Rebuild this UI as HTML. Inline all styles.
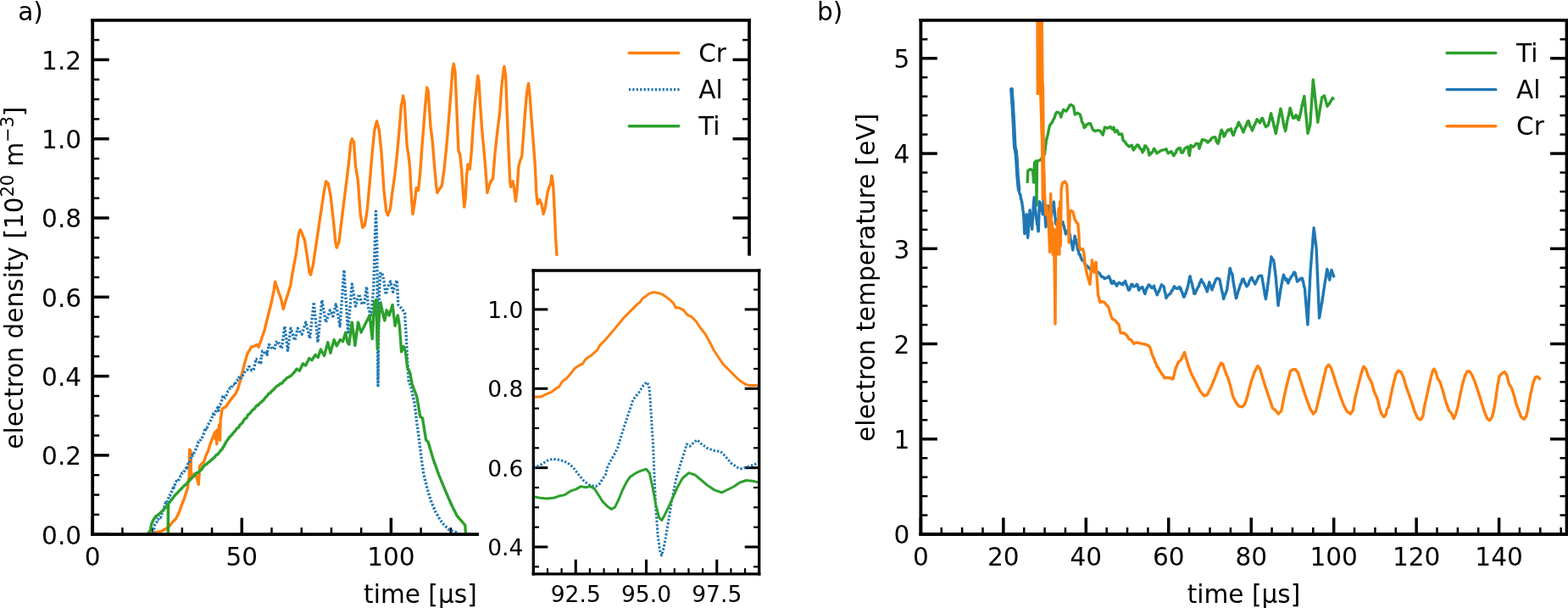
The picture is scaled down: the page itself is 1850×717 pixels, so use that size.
<!DOCTYPE html>
<html><head><meta charset="utf-8"><title>figure</title>
<style>html,body{margin:0;padding:0;background:#fff;width:1850px;height:717px;overflow:hidden} svg{display:block}</style>
</head><body>
<svg width="1850" height="717" viewBox="0 0 1850 717" font-family="'DejaVu Sans', 'Liberation Sans', sans-serif">
<rect x="0" y="0" width="1850" height="717" fill="#fff"/>
<defs>
<clipPath id="ca"><rect x="109.2" y="23.8" width="774.8" height="606.4000000000001"/></clipPath>
<clipPath id="cb"><rect x="1086.4" y="23.9" width="762.0999999999999" height="606.1"/></clipPath>
<clipPath id="ci"><rect x="629.3" y="319.0" width="266.4000000000001" height="357.79999999999995"/></clipPath>
</defs>
<line x1="109.20" y1="630.20" x2="109.20" y2="610.70" stroke="#000" stroke-width="3.5"/>
<line x1="285.29" y1="630.20" x2="285.29" y2="610.70" stroke="#000" stroke-width="3.5"/>
<line x1="461.38" y1="630.20" x2="461.38" y2="610.70" stroke="#000" stroke-width="3.5"/>
<line x1="144.42" y1="630.20" x2="144.42" y2="622.20" stroke="#000" stroke-width="2.5"/>
<line x1="179.64" y1="630.20" x2="179.64" y2="622.20" stroke="#000" stroke-width="2.5"/>
<line x1="214.85" y1="630.20" x2="214.85" y2="622.20" stroke="#000" stroke-width="2.5"/>
<line x1="250.07" y1="630.20" x2="250.07" y2="622.20" stroke="#000" stroke-width="2.5"/>
<line x1="320.51" y1="630.20" x2="320.51" y2="622.20" stroke="#000" stroke-width="2.5"/>
<line x1="355.73" y1="630.20" x2="355.73" y2="622.20" stroke="#000" stroke-width="2.5"/>
<line x1="390.95" y1="630.20" x2="390.95" y2="622.20" stroke="#000" stroke-width="2.5"/>
<line x1="426.16" y1="630.20" x2="426.16" y2="622.20" stroke="#000" stroke-width="2.5"/>
<line x1="496.60" y1="630.20" x2="496.60" y2="622.20" stroke="#000" stroke-width="2.5"/>
<line x1="531.82" y1="630.20" x2="531.82" y2="622.20" stroke="#000" stroke-width="2.5"/>
<line x1="109.20" y1="630.20" x2="128.70" y2="630.20" stroke="#000" stroke-width="3.5"/>
<line x1="109.20" y1="536.91" x2="128.70" y2="536.91" stroke="#000" stroke-width="3.5"/>
<line x1="109.20" y1="443.62" x2="128.70" y2="443.62" stroke="#000" stroke-width="3.5"/>
<line x1="109.20" y1="350.32" x2="128.70" y2="350.32" stroke="#000" stroke-width="3.5"/>
<line x1="109.20" y1="257.03" x2="128.70" y2="257.03" stroke="#000" stroke-width="3.5"/>
<line x1="884.00" y1="257.03" x2="864.50" y2="257.03" stroke="#000" stroke-width="3.5"/>
<line x1="109.20" y1="163.74" x2="128.70" y2="163.74" stroke="#000" stroke-width="3.5"/>
<line x1="884.00" y1="163.74" x2="864.50" y2="163.74" stroke="#000" stroke-width="3.5"/>
<line x1="109.20" y1="70.45" x2="128.70" y2="70.45" stroke="#000" stroke-width="3.5"/>
<line x1="884.00" y1="70.45" x2="864.50" y2="70.45" stroke="#000" stroke-width="3.5"/>
<line x1="109.20" y1="606.88" x2="117.20" y2="606.88" stroke="#000" stroke-width="2.5"/>
<line x1="109.20" y1="583.55" x2="117.20" y2="583.55" stroke="#000" stroke-width="2.5"/>
<line x1="109.20" y1="560.23" x2="117.20" y2="560.23" stroke="#000" stroke-width="2.5"/>
<line x1="109.20" y1="513.58" x2="117.20" y2="513.58" stroke="#000" stroke-width="2.5"/>
<line x1="109.20" y1="490.26" x2="117.20" y2="490.26" stroke="#000" stroke-width="2.5"/>
<line x1="109.20" y1="466.94" x2="117.20" y2="466.94" stroke="#000" stroke-width="2.5"/>
<line x1="109.20" y1="420.29" x2="117.20" y2="420.29" stroke="#000" stroke-width="2.5"/>
<line x1="109.20" y1="396.97" x2="117.20" y2="396.97" stroke="#000" stroke-width="2.5"/>
<line x1="109.20" y1="373.65" x2="117.20" y2="373.65" stroke="#000" stroke-width="2.5"/>
<line x1="109.20" y1="327.00" x2="117.20" y2="327.00" stroke="#000" stroke-width="2.5"/>
<line x1="109.20" y1="303.68" x2="117.20" y2="303.68" stroke="#000" stroke-width="2.5"/>
<line x1="109.20" y1="280.35" x2="117.20" y2="280.35" stroke="#000" stroke-width="2.5"/>
<line x1="884.00" y1="280.35" x2="876.00" y2="280.35" stroke="#000" stroke-width="2.5"/>
<line x1="109.20" y1="233.71" x2="117.20" y2="233.71" stroke="#000" stroke-width="2.5"/>
<line x1="884.00" y1="233.71" x2="876.00" y2="233.71" stroke="#000" stroke-width="2.5"/>
<line x1="109.20" y1="210.38" x2="117.20" y2="210.38" stroke="#000" stroke-width="2.5"/>
<line x1="884.00" y1="210.38" x2="876.00" y2="210.38" stroke="#000" stroke-width="2.5"/>
<line x1="109.20" y1="187.06" x2="117.20" y2="187.06" stroke="#000" stroke-width="2.5"/>
<line x1="884.00" y1="187.06" x2="876.00" y2="187.06" stroke="#000" stroke-width="2.5"/>
<line x1="109.20" y1="140.42" x2="117.20" y2="140.42" stroke="#000" stroke-width="2.5"/>
<line x1="884.00" y1="140.42" x2="876.00" y2="140.42" stroke="#000" stroke-width="2.5"/>
<line x1="109.20" y1="117.09" x2="117.20" y2="117.09" stroke="#000" stroke-width="2.5"/>
<line x1="884.00" y1="117.09" x2="876.00" y2="117.09" stroke="#000" stroke-width="2.5"/>
<line x1="109.20" y1="93.77" x2="117.20" y2="93.77" stroke="#000" stroke-width="2.5"/>
<line x1="884.00" y1="93.77" x2="876.00" y2="93.77" stroke="#000" stroke-width="2.5"/>
<line x1="109.20" y1="47.12" x2="117.20" y2="47.12" stroke="#000" stroke-width="2.5"/>
<line x1="884.00" y1="47.12" x2="876.00" y2="47.12" stroke="#000" stroke-width="2.5"/>
<line x1="109.20" y1="23.80" x2="117.20" y2="23.80" stroke="#000" stroke-width="2.5"/>
<line x1="884.00" y1="23.80" x2="876.00" y2="23.80" stroke="#000" stroke-width="2.5"/>
<path d="M176.0,629.0 L183.8,627.8 L190.1,626.6 L195.1,624.1 L200.1,620.3 L203.9,615.3 L207.7,611.5 L211.4,604.0 L214.0,596.5 L216.5,590.2 L219.0,582.7 L221.5,575.1 L222.7,563.8 L223.2,566.0 L223.6,530.0 L224.3,560.0 L224.8,531.0 L225.7,565.1 L228.8,559.0 L231.9,562.1 L234.2,571.3 L235.7,549.8 L238.0,546.7 L240.3,545.2 L243.4,536.0 L245.7,531.4 L248.0,523.7 L251.1,516.0 L253.4,509.9 L254.5,518.0 L255.2,508.0 L255.7,523.7 L256.4,506.8 L257.5,515.0 L258.7,500.7 L259.5,519.1 L260.2,495.0 L261.0,490.0 L261.8,483.8 L262.6,481.7 L266.4,479.8 L270.1,474.2 L273.0,470.4 L277.7,464.7 L280.5,459.1 L283.3,449.7 L286.1,438.4 L289.0,427.1 L291.8,417.4 L296.7,409.0 L300.3,408.2 L303.1,406.4 L305.0,409.2 L307.8,402.0 L312.0,389.5 L316.2,372.7 L320.4,356.0 L323.2,342.0 L324.6,332.3 L326.0,336.5 L328.8,344.8 L331.5,351.8 L334.3,364.4 L337.1,354.6 L339.9,346.2 L342.7,336.5 L345.5,319.7 L349.7,297.4 L352.5,275.1 L354.4,271.0 L355.3,272.5 L359.5,283.6 L362.3,301.7 L365.1,321.3 L366.5,324.0 L369.3,312.9 L373.5,285.0 L377.6,257.1 L381.8,229.2 L384.6,213.9 L387.4,216.7 L390.2,232.0 L393.0,257.1 L395.8,285.0 L397.2,292.0 L400.0,285.0 L404.1,251.5 L408.3,218.1 L411.1,195.8 L413.9,167.9 L415.3,163.7 L417.5,167.9 L419.5,195.8 L422.3,212.5 L425.1,251.5 L427.8,268.3 L430.6,265.5 L433.4,246.0 L436.2,215.3 L439.0,181.8 L441.8,153.9 L444.6,142.8 L447.4,153.9 L450.2,181.8 L452.9,223.7 L455.7,248.8 L457.7,253.8 L460.5,246.0 L462.8,227.3 L465.6,207.8 L468.4,182.7 L471.2,152.0 L473.4,124.1 L474.5,120.0 L475.6,113.0 L477.3,121.3 L479.0,152.0 L480.1,171.5 L482.3,185.5 L483.7,199.4 L485.1,227.3 L487.0,252.4 L489.3,238.5 L491.2,221.7 L493.5,224.5 L495.7,205.0 L497.6,177.1 L499.6,152.0 L501.8,124.1 L502.7,114.4 L503.8,103.2 L505.2,107.4 L506.3,124.1 L508.0,149.2 L510.2,166.0 L512.4,193.9 L514.7,219.0 L515.8,227.3 L518.6,223.1 L521.3,219.0 L524.1,199.4 L526.9,171.5 L529.7,138.1 L531.9,110.2 L533.9,82.3 L535.3,75.3 L537.0,85.1 L538.1,110.2 L539.5,143.7 L540.9,177.1 L542.8,182.7 L544.5,199.4 L546.4,227.3 L547.8,244.0 L549.2,232.9 L550.6,207.8 L552.0,193.9 L554.3,199.4 L556.2,179.9 L558.2,149.2 L560.4,121.3 L562.3,104.6 L563.7,89.3 L565.1,96.3 L566.5,121.3 L568.8,154.8 L571.0,177.1 L572.9,199.4 L574.9,227.3 L577.1,219.0 L579.4,213.4 L581.6,210.6 L584.1,179.9 L586.9,154.8 L589.7,132.5 L591.7,103.4 L594.0,83.4 L595.0,78.4 L596.7,90.1 L598.4,136.9 L600.1,177.0 L601.7,213.8 L602.7,220.5 L605.1,213.8 L606.8,223.8 L608.4,237.2 L610.1,223.8 L611.8,197.1 L613.4,190.4 L615.8,183.7 L617.5,160.3 L619.5,133.5 L621.5,110.1 L623.5,98.4 L625.2,113.5 L626.8,136.9 L629.2,167.0 L631.2,193.7 L632.8,227.2 L634.2,240.6 L636.9,235.6 L638.9,240.6 L641.2,252.3 L643.5,243.9 L645.9,227.2 L647.9,220.5 L649.6,217.2 L650.9,207.1 L652.6,217.2 L654.2,247.3 L655.6,280.7 L656.9,300.8 L658.0,330.0" fill="none" stroke="#ff7f0e" stroke-width="3.4" stroke-linejoin="round" stroke-linecap="butt" clip-path="url(#ca)"/>
<path d="M180.5,629.0 L180.9,627.1 L181.3,625.3 L181.7,623.2 L182.2,621.2 L182.6,619.1 L183.8,617.2 L185.1,615.3 L185.9,612.2 L186.8,612.3 L187.6,610.3 L188.9,610.5 L190.1,609.2 L191.4,605.2 L192.0,605.1 L192.7,601.5 L193.3,600.1 L193.9,597.7 L194.6,595.8 L195.4,592.7 L196.1,592.5 L196.9,593.1 L197.6,590.2 L198.4,589.1 L199.1,586.7 L199.9,584.1 L200.6,584.1 L201.4,582.7 L202.2,580.3 L202.9,579.7 L203.7,578.9 L204.4,573.2 L205.2,575.1 L205.9,573.5 L206.7,569.9 L207.4,569.2 L208.2,567.3 L208.9,567.6 L209.9,568.0 L210.9,566.1 L212.0,564.6 L213.0,561.5 L214.0,561.3 L214.9,557.6 L215.8,557.6 L216.8,556.9 L217.7,555.0 L218.5,553.4 L219.2,553.0 L220.0,550.0 L220.7,551.7 L221.5,547.5 L222.4,546.7 L223.4,547.0 L224.4,542.6 L225.3,540.5 L226.1,538.7 L226.9,536.3 L227.7,537.2 L228.5,536.1 L229.3,533.3 L230.1,532.2 L230.9,530.1 L231.7,528.1 L232.5,526.2 L233.3,524.8 L234.2,520.8 L235.0,520.5 L235.8,520.5 L236.6,518.8 L237.3,517.5 L238.1,517.5 L238.8,515.3 L239.5,513.6 L240.3,511.5 L241.0,510.0 L241.8,505.0 L242.7,506.7 L243.5,503.7 L244.3,504.1 L245.2,501.2 L246.0,500.0 L247.5,498.6 L248.3,496.5 L249.1,494.6 L249.9,493.3 L250.8,489.2 L251.6,488.1 L252.4,490.7 L253.2,487.3 L254.1,486.4 L255.1,483.5 L256.0,482.1 L256.9,480.5 L257.9,484.3 L258.8,477.9 L259.8,477.1 L260.7,474.8 L261.6,472.2 L262.6,468.1 L263.6,470.2 L264.5,468.5 L265.6,469.1 L266.7,466.9 L267.9,464.4 L269.0,461.6 L270.1,461.0 L271.2,457.7 L272.4,458.1 L273.5,455.8 L274.7,453.2 L275.8,453.4 L277.2,454.5 L278.6,449.2 L280.0,448.4 L281.4,447.8 L282.5,443.1 L283.7,448.0 L284.8,444.1 L286.0,443.1 L287.1,442.1 L288.0,441.1 L289.0,438.0 L289.9,436.9 L290.8,436.5 L292.1,435.7 L293.3,432.7 L294.6,432.7 L295.9,434.4 L297.1,437.0 L298.4,436.5 L298.9,436.0 L299.3,435.3 L299.8,433.1 L300.2,432.5 L300.7,428.7 L301.2,427.2 L301.6,423.3 L302.1,423.3 L303.3,424.4 L304.5,425.1 L305.7,427.5 L306.9,429.0 L307.2,425.7 L307.5,426.1 L307.8,427.8 L308.1,421.1 L308.5,421.5 L308.8,419.9 L309.1,416.1 L309.4,415.1 L309.7,413.9 L311.3,414.4 L312.8,417.1 L314.4,417.7 L314.8,415.1 L315.2,418.3 L315.6,414.1 L316.0,412.9 L316.4,412.8 L316.8,410.1 L317.2,406.4 L318.6,407.6 L320.0,409.7 L321.5,410.6 L322.9,412.0 L323.7,410.8 L324.5,410.3 L325.2,404.3 L326.0,403.2 L326.8,403.7 L327.6,402.6 L328.6,404.9 L329.5,405.2 L330.5,407.6 L331.4,409.2 L332.4,410.9 L332.6,409.3 L332.8,407.6 L333.1,406.0 L333.3,404.4 L333.5,402.7 L333.7,401.1 L333.9,399.5 L334.1,397.9 L334.4,396.2 L334.6,394.6 L334.8,393.0 L335.0,391.3 L335.2,389.7 L335.5,388.1 L335.7,386.4 L335.9,384.8 L336.1,386.5 L336.3,388.2 L336.5,389.8 L336.7,391.5 L337.0,393.2 L337.2,394.9 L337.4,396.5 L337.6,398.2 L337.8,399.9 L338.0,401.6 L338.2,403.2 L338.4,404.9 L338.7,406.6 L338.9,408.3 L339.1,409.9 L339.3,411.6 L339.5,413.3 L339.7,411.7 L339.9,410.0 L340.2,408.4 L340.4,406.8 L340.6,405.1 L340.8,403.5 L341.0,401.9 L341.2,400.2 L341.5,398.6 L341.7,397.0 L341.9,395.4 L342.1,393.7 L342.3,392.1 L342.6,390.5 L342.8,388.8 L343.0,387.2 L343.5,388.8 L344.1,390.4 L344.6,391.9 L345.1,393.5 L345.7,395.1 L346.2,396.7 L346.7,398.2 L347.3,399.8 L347.8,401.4 L348.2,399.8 L348.6,398.2 L349.0,396.7 L349.4,395.1 L349.7,393.5 L350.1,391.9 L350.5,390.4 L350.9,388.8 L351.3,387.2 L352.3,388.6 L353.2,390.0 L354.2,391.5 L355.1,392.9 L356.1,394.3 L356.6,392.7 L357.1,391.1 L357.7,389.6 L358.2,388.0 L358.7,386.4 L359.2,384.8 L359.8,383.3 L360.3,381.7 L360.8,380.1 L361.2,381.7 L361.6,383.3 L362.0,384.9 L362.4,386.4 L362.8,388.0 L363.2,389.6 L363.6,391.2 L364.0,392.8 L364.4,394.4 L364.8,395.9 L365.2,397.5 L365.6,399.1 L365.8,397.5 L366.0,395.8 L366.1,394.2 L366.3,392.5 L366.5,390.9 L366.7,389.2 L366.9,387.6 L367.0,386.0 L367.2,384.3 L367.4,382.7 L367.6,381.0 L367.8,379.4 L368.0,377.8 L368.1,376.1 L368.3,374.5 L368.5,372.8 L368.7,371.2 L368.9,369.5 L369.0,367.9 L369.2,366.3 L369.4,364.6 L369.6,363.0 L369.8,361.3 L369.9,359.7 L370.1,358.0 L370.3,356.4 L370.5,358.0 L370.6,359.7 L370.8,361.3 L370.9,362.9 L371.1,364.6 L371.3,366.2 L371.4,367.8 L371.6,369.5 L371.8,371.1 L371.9,372.7 L372.1,374.4 L372.2,376.0 L372.4,377.6 L372.6,379.3 L372.7,380.9 L372.9,382.6 L373.1,384.2 L373.2,385.8 L373.4,387.5 L373.5,389.1 L373.7,390.7 L373.9,392.4 L374.0,394.0 L374.2,395.6 L374.4,397.3 L374.5,398.9 L374.7,400.5 L374.8,402.2 L375.0,403.8 L375.2,402.2 L375.3,400.6 L375.5,399.0 L375.6,397.4 L375.8,395.8 L375.9,394.2 L376.1,392.6 L376.2,390.9 L376.4,389.3 L376.5,387.7 L376.7,386.1 L376.9,384.5 L377.0,382.9 L377.2,381.3 L377.3,379.7 L377.5,378.1 L377.6,376.5 L377.8,374.9 L377.9,373.3 L378.1,371.7 L378.3,370.1 L378.4,368.5 L378.6,366.9 L378.7,365.2 L378.9,363.6 L379.0,362.0 L379.2,360.4 L379.3,358.8 L379.5,357.2 L379.6,355.6 L379.8,354.0 L380.1,355.6 L380.4,357.3 L380.7,358.9 L381.0,360.5 L381.3,362.2 L381.6,363.8 L381.9,365.4 L382.1,367.1 L382.4,368.7 L382.7,370.3 L383.0,371.9 L383.3,373.6 L383.6,375.2 L383.9,376.8 L384.2,378.5 L384.5,380.1 L385.0,378.5 L385.6,376.9 L386.1,375.4 L386.6,373.8 L387.2,372.2 L387.7,370.6 L388.2,369.1 L388.8,367.5 L389.3,365.9 L390.2,367.7 L391.1,369.4 L391.9,371.2 L392.8,373.0 L393.2,371.4 L393.6,369.8 L394.0,368.3 L394.4,366.7 L394.8,365.1 L395.2,363.5 L395.6,362.0 L396.0,360.4 L396.4,358.8 L396.7,360.4 L397.0,362.1 L397.3,363.7 L397.6,365.3 L397.9,366.9 L398.2,368.6 L398.5,370.2 L398.8,371.8 L399.0,373.4 L399.3,375.1 L399.6,376.7 L399.9,378.3 L400.2,379.9 L400.5,381.6 L400.8,383.2 L401.1,384.8 L401.2,383.2 L401.3,381.6 L401.5,379.9 L401.6,378.3 L401.7,376.7 L401.8,375.1 L401.9,373.5 L402.0,371.8 L402.2,370.2 L402.3,368.6 L402.4,367.0 L402.5,365.4 L402.6,363.7 L402.7,362.1 L402.9,360.5 L403.0,358.9 L403.1,357.3 L403.2,355.6 L403.3,354.0 L403.4,352.4 L403.6,350.8 L403.7,349.2 L403.8,347.6 L403.9,345.9 L404.0,344.3 L404.1,342.7 L404.3,341.1 L404.4,339.5 L404.5,337.8 L404.6,336.2 L404.7,334.6 L404.8,333.0 L405.0,331.4 L405.1,329.7 L405.2,328.1 L405.3,326.5 L405.4,324.9 L405.5,323.3 L405.7,321.6 L405.8,320.0 L405.9,318.4 L406.0,320.0 L406.1,321.6 L406.2,323.2 L406.3,324.8 L406.4,326.4 L406.5,328.0 L406.6,329.6 L406.7,331.2 L406.8,332.8 L406.9,334.4 L407.0,336.0 L407.1,337.6 L407.2,339.2 L407.3,340.8 L407.4,342.4 L407.5,344.0 L407.6,345.6 L407.7,347.2 L407.8,348.8 L407.9,350.4 L408.0,352.0 L408.1,353.6 L408.2,355.1 L408.4,356.7 L408.5,358.3 L408.6,359.9 L408.7,361.5 L408.8,363.1 L408.9,364.7 L409.0,366.3 L409.1,367.9 L409.2,369.5 L409.3,371.1 L409.4,372.7 L409.5,374.3 L409.6,375.9 L409.7,377.5 L409.8,379.1 L409.9,380.7 L410.0,382.3 L410.1,383.9 L410.2,385.5 L410.3,387.1 L410.4,388.7 L410.5,390.3 L410.6,391.9 L410.7,390.3 L410.9,388.6 L411.0,387.0 L411.1,385.4 L411.3,383.8 L411.4,382.1 L411.5,380.5 L411.7,378.9 L411.8,377.3 L411.9,375.6 L412.1,374.0 L412.2,372.4 L412.3,370.8 L412.5,369.1 L412.6,367.5 L412.7,365.9 L412.9,364.3 L413.0,362.6 L413.2,361.0 L413.3,359.4 L413.4,357.8 L413.6,356.1 L413.7,354.5 L413.8,352.9 L414.0,351.3 L414.1,349.6 L414.2,348.0 L414.4,346.4 L414.5,344.8 L414.6,343.1 L414.8,341.5 L414.9,339.9 L415.0,338.3 L415.2,336.6 L415.3,335.0 L415.6,336.6 L415.8,338.3 L416.1,339.9 L416.4,341.5 L416.6,343.2 L416.9,344.8 L417.2,346.4 L417.5,348.1 L417.7,349.7 L418.0,351.3 L418.3,352.9 L418.5,354.6 L418.8,356.2 L419.1,357.8 L419.3,359.5 L419.6,361.1 L420.0,359.5 L420.5,357.9 L420.9,356.4 L421.4,354.8 L421.8,353.2 L422.3,351.6 L422.7,350.1 L423.2,348.5 L423.6,346.9 L424.1,348.6 L424.6,350.3 L425.1,352.0 L425.7,353.7 L426.2,355.4 L426.7,357.1 L427.2,358.8 L428.6,357.7 L430.0,356.6 L430.2,354.9 L430.5,353.3 L430.7,351.6 L430.9,349.9 L431.1,348.2 L431.4,346.6 L431.6,344.9 L431.8,343.2 L432.0,341.5 L432.3,339.9 L432.5,338.2 L432.6,339.8 L432.8,341.5 L432.9,343.1 L433.1,344.7 L433.2,346.4 L433.3,348.0 L433.5,349.6 L433.6,351.3 L433.8,352.9 L433.9,354.5 L434.0,356.2 L434.2,357.8 L434.3,359.4 L434.5,361.1 L434.6,362.7 L435.1,364.2 L435.6,365.8 L436.1,367.3 L436.7,368.8 L437.2,370.4 L437.7,371.9 L437.9,370.3 L438.0,368.7 L438.2,367.1 L438.3,365.4 L438.5,363.8 L438.6,362.2 L438.8,360.6 L439.0,359.0 L439.1,357.4 L439.3,355.7 L439.4,354.1 L439.6,352.5 L439.8,350.9 L439.9,349.3 L440.1,347.7 L440.2,346.0 L440.4,344.4 L440.5,342.8 L440.7,341.2 L440.7,339.6 L440.8,338.0 L440.8,336.4 L440.9,334.7 L440.9,333.1 L441.0,331.5 L441.0,329.9 L441.1,328.3 L441.1,326.7 L441.2,325.1 L441.2,323.4 L441.3,321.8 L441.3,320.2 L441.4,318.6 L441.4,317.0 L441.5,315.4 L441.5,313.8 L441.6,312.1 L441.6,310.5 L441.7,308.9 L441.7,307.3 L441.8,305.7 L441.8,304.1 L441.9,302.5 L441.9,300.8 L442.0,299.2 L442.0,297.6 L442.1,296.0 L442.1,294.4 L442.2,292.8 L442.2,291.2 L442.3,289.6 L442.3,287.9 L442.4,286.3 L442.4,284.7 L442.5,283.1 L442.5,281.5 L442.6,279.9 L442.6,278.3 L442.7,276.6 L442.7,275.0 L442.8,273.4 L442.8,271.8 L442.9,270.2 L442.9,268.6 L443.0,267.0 L443.0,265.3 L443.1,263.7 L443.1,262.1 L443.2,260.5 L443.2,258.9 L443.3,257.3 L443.3,255.7 L443.4,254.0 L443.4,252.4 L443.5,250.8 L443.5,249.2 L443.6,250.8 L443.6,252.4 L443.7,254.0 L443.7,255.6 L443.8,257.2 L443.8,258.8 L443.9,260.4 L443.9,262.0 L444.0,263.6 L444.0,265.2 L444.1,266.8 L444.1,268.4 L444.2,270.0 L444.2,271.6 L444.3,273.2 L444.3,274.8 L444.4,276.4 L444.4,278.0 L444.5,279.6 L444.5,281.2 L444.6,282.8 L444.6,284.4 L444.7,286.0 L444.7,287.6 L444.7,289.2 L444.7,290.8 L444.8,292.4 L444.8,294.0 L444.8,295.6 L444.8,297.2 L444.8,298.8 L444.8,300.4 L444.8,302.0 L444.9,303.6 L444.9,305.3 L444.9,306.9 L444.9,308.5 L444.9,310.1 L444.9,311.7 L444.9,313.3 L444.9,314.9 L445.0,316.5 L445.0,318.1 L445.0,319.7 L445.0,321.3 L445.0,322.9 L445.0,324.5 L445.0,326.1 L445.1,327.7 L445.1,329.3 L445.1,330.9 L445.1,332.5 L445.1,334.1 L445.1,335.7 L445.1,337.3 L445.1,339.0 L445.2,340.6 L445.2,342.2 L445.2,343.8 L445.2,345.4 L445.2,347.0 L445.2,348.6 L445.2,350.2 L445.3,351.8 L445.3,353.4 L445.3,355.0 L445.3,356.6 L445.3,358.2 L445.3,359.8 L445.3,361.4 L445.3,363.0 L445.4,364.6 L445.4,366.2 L445.4,367.9 L445.4,369.5 L445.4,371.1 L445.4,372.7 L445.4,374.3 L445.4,375.9 L445.4,377.5 L445.5,379.1 L445.5,380.7 L445.5,382.3 L445.5,383.9 L445.5,385.5 L445.5,387.2 L445.5,388.8 L445.5,390.4 L445.6,392.0 L445.6,393.6 L445.6,395.2 L445.6,396.8 L445.6,398.4 L445.6,400.0 L445.6,401.6 L445.6,403.2 L445.6,404.8 L445.7,406.5 L445.7,408.1 L445.7,409.7 L445.7,411.3 L445.7,412.9 L445.7,414.5 L445.7,416.1 L445.7,417.7 L445.7,419.3 L445.8,420.9 L445.8,422.5 L445.8,424.1 L445.8,425.8 L445.8,427.4 L445.8,429.0 L445.8,430.6 L445.8,432.2 L445.9,433.8 L445.9,435.4 L445.9,437.0 L445.9,438.6 L445.9,440.2 L445.9,441.8 L445.9,443.4 L445.9,445.1 L445.9,446.7 L446.0,448.3 L446.0,449.9 L446.0,451.5 L446.0,453.1 L446.0,454.7 L446.0,453.1 L446.0,451.5 L446.0,449.9 L446.1,448.2 L446.1,446.6 L446.1,445.0 L446.1,443.4 L446.1,441.8 L446.1,440.2 L446.2,438.6 L446.2,436.9 L446.2,435.3 L446.2,433.7 L446.2,432.1 L446.2,430.5 L446.3,428.9 L446.3,427.3 L446.3,425.6 L446.3,424.0 L446.3,422.4 L446.3,420.8 L446.3,419.2 L446.4,417.6 L446.4,416.0 L446.4,414.3 L446.4,412.7 L446.4,411.1 L446.4,409.5 L446.5,407.9 L446.5,406.3 L446.5,404.7 L446.5,403.1 L446.5,401.4 L446.5,399.8 L446.6,398.2 L446.6,396.6 L446.6,395.0 L446.6,393.4 L446.6,391.8 L446.6,390.1 L446.6,388.5 L446.7,386.9 L446.7,385.3 L446.7,383.7 L446.7,382.1 L446.7,380.5 L446.7,378.8 L446.8,377.2 L446.8,375.6 L446.8,374.0 L446.8,372.4 L446.8,370.8 L446.8,369.2 L446.9,367.5 L446.9,365.9 L446.9,364.3 L446.9,362.7 L447.0,361.0 L447.0,359.4 L447.1,357.7 L447.1,356.1 L447.2,354.4 L447.3,352.7 L447.3,351.1 L447.4,349.4 L447.5,347.7 L447.5,346.1 L447.6,344.4 L447.6,342.8 L447.7,341.1 L447.8,339.4 L447.8,337.8 L447.9,336.1 L448.0,334.4 L448.0,332.8 L448.1,331.1 L448.1,329.4 L448.2,327.8 L448.3,326.1 L448.3,324.5 L448.4,322.8 L450.9,321.3 L451.2,323.1 L451.6,324.9 L451.9,326.6 L452.3,328.4 L452.6,330.2 L453.0,332.0 L453.2,333.7 L453.5,335.4 L453.7,337.1 L454.0,338.8 L454.2,340.6 L454.5,342.3 L454.7,344.0 L455.0,345.7 L455.2,347.4 L455.7,345.6 L456.2,343.7 L456.6,341.9 L457.1,340.0 L457.6,338.2 L458.4,336.6 L459.1,335.1 L459.9,333.6 L460.7,332.0 L461.1,333.8 L461.6,335.5 L462.0,337.3 L462.4,339.0 L462.8,340.8 L463.3,342.5 L463.7,344.3 L464.2,342.5 L464.7,340.6 L465.2,338.8 L465.7,336.9 L466.2,335.1 L466.9,333.6 L467.6,332.0 L468.3,330.5 L468.4,332.1 L468.5,333.7 L468.6,335.4 L468.7,337.0 L468.7,338.6 L468.8,340.2 L468.9,341.8 L469.0,343.4 L469.1,345.1 L469.2,346.7 L469.3,348.3 L469.4,349.9 L469.5,351.5 L469.5,353.1 L469.6,354.8 L469.7,356.4 L469.8,358.0 L469.9,359.6 L471.4,361.1 L472.9,362.7 L474.1,364.2 L475.4,365.8 L476.4,367.3 L477.5,368.8 L477.6,370.4 L477.7,372.1 L477.8,373.7 L477.9,375.4 L478.0,377.0 L478.1,378.6 L478.2,380.3 L478.4,381.9 L478.5,383.6 L478.6,385.2 L478.7,386.8 L478.8,388.5 L478.9,390.1 L479.0,391.8 L479.1,393.4 L479.2,395.0 L479.3,396.6 L479.3,398.2 L479.4,399.8 L479.5,401.5 L479.6,403.1 L479.7,404.7 L479.7,406.3 L479.8,407.9 L479.9,409.5 L480.0,411.1 L480.0,412.7 L480.1,414.3 L480.2,415.9 L480.3,417.6 L480.4,419.2 L480.4,420.8 L480.5,422.4 L480.6,424.0 L480.7,425.6 L480.8,427.3 L480.9,428.9 L481.0,430.6 L481.1,432.2 L481.2,433.8 L481.3,435.5 L481.4,437.1 L481.5,438.8 L481.6,440.4 L481.7,442.0 L481.8,443.7 L481.9,445.3 L482.0,447.0 L482.1,448.6 L482.7,450.1 L483.2,451.7 L483.8,453.2 L484.3,454.8 L484.9,456.3 L485.2,457.9 L485.6,459.5 L485.9,461.1 L486.3,462.6 L486.6,464.2 L486.9,465.8 L487.3,467.4 L487.6,469.0 L488.0,470.6 L488.3,472.1 L488.7,473.7 L489.0,475.3 L489.2,477.0 L489.4,478.7 L489.6,480.3 L489.8,482.0 L490.0,483.7 L490.2,485.4 L490.5,487.0 L490.7,488.7 L490.9,490.4 L491.1,492.1 L491.3,493.7 L491.5,495.4 L491.7,497.1 L491.9,498.8 L492.1,500.4 L492.3,502.1 L492.6,503.8 L492.8,505.4 L493.0,507.1 L493.2,508.8 L493.4,510.5 L493.6,512.1 L493.9,513.8 L494.1,515.5 L494.3,517.1 L494.5,518.8 L494.7,520.5 L494.9,522.1 L495.1,523.8 L495.3,525.5 L495.5,527.1 L495.7,528.8 L496.0,530.5 L496.2,532.2 L496.4,533.8 L496.6,535.5 L496.8,537.2 L497.0,538.8 L497.2,540.5 L497.4,542.1 L497.6,543.7 L497.9,545.3 L498.1,546.9 L498.3,548.5 L498.5,550.0 L498.8,551.6 L499.0,553.2 L499.2,554.8 L499.4,556.4 L499.7,558.0 L499.9,559.6 L500.3,561.2 L500.7,562.9 L501.1,564.5 L501.5,566.1 L501.9,567.8 L502.4,569.4 L502.8,571.0 L503.2,572.6 L503.6,574.3 L504.0,575.9 L504.5,577.6 L505.0,579.3 L505.5,581.0 L506.0,582.7 L506.5,584.4 L507.0,586.1 L507.5,587.8 L508.0,589.5 L508.6,591.0 L509.2,592.5 L509.8,594.0 L510.4,595.5 L511.1,597.0 L511.7,598.5 L512.3,600.0 L512.9,601.5 L513.5,603.0 L514.4,604.5 L515.3,606.0 L516.2,607.5 L517.1,609.0 L518.0,610.6 L518.9,612.1 L519.8,613.6 L520.7,615.1 L521.6,616.6 L522.8,617.8 L523.9,618.9 L525.1,620.1 L526.3,621.3 L527.5,622.5 L528.6,623.6 L529.8,624.8 L531.4,625.3 L533.0,625.9 L534.7,626.4 L536.3,627.0 L537.9,627.5 L539.3,630.0" fill="none" stroke="#1f77b4" stroke-width="3.4" stroke-linejoin="round" stroke-linecap="butt" stroke-dasharray="2.4,2.0" clip-path="url(#ca)"/>
<path d="M174.4,629.0 L176.5,627.0 L177.6,624.3 L178.0,622.1 L178.4,620.0 L178.8,617.8 L179.8,615.6 L180.7,613.4 L182.2,611.2 L183.8,609.0 L186.0,607.5 L188.2,605.9 L190.1,604.0 L192.0,602.1 L193.9,599.9 L195.8,597.7 L198.3,594.6 L198.3,596.7 L198.3,598.8 L198.3,600.8 L198.3,602.9 L198.3,605.0 L198.3,607.1 L198.3,609.2 L198.3,611.3 L198.3,613.3 L198.3,615.4 L198.3,617.5 L198.3,619.6 L198.3,621.7 L198.3,623.8 L198.3,625.8 L198.3,627.9 L198.3,630.0 L198.3,627.9 L198.3,625.8 L198.4,623.7 L198.4,621.6 L198.4,619.5 L198.4,617.4 L198.4,615.3 L198.4,613.2 L198.5,611.0 L198.5,608.9 L198.5,606.8 L198.5,604.7 L198.5,602.6 L198.5,600.5 L198.6,598.4 L198.6,596.3 L198.6,594.2 L200.0,592.4 L201.3,590.7 L202.7,588.9 L204.4,586.8 L206.0,584.6 L207.7,582.7 L209.3,581.4 L210.8,579.4 L212.4,577.8 L214.0,576.4 L215.7,574.2 L217.3,572.9 L219.0,571.4 L220.5,570.3 L222.0,568.2 L223.5,566.8 L225.0,564.5 L226.7,563.2 L228.3,561.9 L230.0,560.4 L231.6,557.8 L233.3,557.9 L234.9,556.3 L236.6,554.6 L238.1,553.4 L239.6,550.5 L241.1,549.0 L242.6,548.0 L244.1,547.0 L246.0,545.1 L247.8,543.9 L249.7,542.1 L251.6,540.5 L253.1,539.3 L254.6,537.1 L256.2,536.2 L257.7,534.7 L259.2,533.0 L260.4,530.9 L261.5,530.6 L262.7,528.2 L263.8,526.9 L265.0,524.5 L266.2,522.2 L267.4,520.3 L268.7,518.6 L269.9,516.8 L271.1,515.0 L272.8,513.6 L274.4,511.6 L276.1,509.5 L277.7,508.0 L279.0,505.8 L280.4,504.5 L281.7,503.9 L283.1,501.1 L284.4,500.1 L285.8,498.7 L287.1,496.8 L288.4,494.3 L289.8,493.6 L291.1,492.7 L292.5,489.1 L293.8,488.5 L295.2,487.1 L296.5,485.5 L298.1,483.4 L299.6,482.6 L301.2,480.7 L302.8,478.3 L304.3,478.1 L305.9,476.0 L307.5,474.8 L309.0,473.4 L310.6,472.2 L312.2,470.0 L313.7,468.2 L315.3,466.6 L316.9,464.2 L318.6,463.8 L320.2,461.5 L321.9,460.3 L323.7,458.5 L325.5,456.4 L327.4,455.0 L329.2,454.0 L330.9,452.3 L332.7,452.0 L334.4,449.8 L336.5,447.7 L338.6,445.6 L340.7,444.6 L342.8,443.5 L344.9,441.4 L347.0,439.3 L348.6,437.2 L350.1,435.1 L353.3,437.2 L354.4,435.1 L355.4,433.0 L356.4,431.0 L357.5,428.9 L360.6,431.0 L361.7,428.9 L362.7,426.8 L363.8,424.7 L364.8,422.6 L367.9,424.7 L369.3,422.6 L370.7,420.5 L372.1,418.4 L373.6,419.9 L375.2,421.5 L376.0,419.1 L376.8,416.8 L377.6,414.5 L378.4,412.1 L379.4,413.9 L380.5,415.8 L381.6,417.6 L382.6,419.4 L383.1,417.4 L383.7,415.5 L384.2,413.5 L384.7,411.5 L385.2,409.6 L385.8,407.6 L386.3,405.7 L386.8,403.7 L387.3,405.8 L387.8,407.9 L388.4,410.0 L388.9,412.1 L389.4,414.2 L389.9,416.3 L390.4,414.3 L390.9,412.4 L391.5,410.4 L392.0,408.5 L392.5,406.5 L393.1,404.5 L393.6,402.6 L394.1,400.6 L395.1,403.0 L396.2,405.5 L397.2,407.9 L398.2,406.1 L399.3,404.2 L400.3,402.4 L401.4,400.6 L404.6,402.7 L405.2,400.6 L405.8,398.5 L406.5,396.4 L407.1,394.3 L407.7,392.2 L408.2,394.5 L408.6,396.8 L409.1,399.1 L409.5,401.4 L410.0,403.7 L411.8,406.2 L412.1,404.2 L412.3,402.2 L412.6,400.2 L412.9,398.2 L413.1,396.2 L413.4,394.2 L413.7,392.1 L414.0,390.1 L414.2,388.1 L414.5,386.1 L414.8,384.1 L415.0,382.1 L415.3,380.1 L415.6,382.2 L415.9,384.3 L416.1,386.4 L416.4,388.5 L416.7,390.6 L417.0,392.7 L417.2,394.8 L417.5,396.9 L417.8,399.0 L418.1,401.1 L418.3,403.2 L418.6,405.3 L418.9,407.4 L419.2,405.3 L419.5,403.2 L419.7,401.1 L420.0,399.0 L420.3,396.9 L420.6,394.8 L420.8,392.7 L421.1,390.6 L421.4,388.5 L421.7,386.4 L421.9,384.3 L422.2,382.2 L422.5,380.1 L423.1,382.1 L423.7,384.0 L424.2,386.0 L424.8,388.0 L425.4,389.9 L426.0,391.9 L427.2,389.5 L428.4,387.2 L429.6,384.8 L430.8,382.5 L431.9,380.3 L433.1,378.0 L434.1,376.0 L435.1,373.9 L436.1,371.9 L436.3,374.0 L436.6,376.1 L436.8,378.3 L437.1,380.4 L437.3,382.5 L437.5,384.6 L437.8,386.8 L438.0,388.9 L438.2,391.0 L438.5,393.1 L438.7,395.3 L439.0,397.4 L439.2,399.5 L439.3,397.5 L439.4,395.4 L439.6,393.4 L439.7,391.3 L439.8,389.3 L439.9,387.2 L440.0,385.2 L440.2,383.2 L440.3,381.1 L440.4,379.1 L440.5,377.0 L440.6,375.0 L440.7,372.9 L440.9,370.9 L441.0,368.9 L441.1,366.8 L441.2,364.8 L441.3,362.7 L441.5,360.7 L441.6,358.6 L441.7,356.6 L443.8,353.5 L443.9,355.5 L443.9,357.5 L444.0,359.5 L444.0,361.5 L444.1,363.6 L444.1,365.6 L444.2,367.6 L444.2,369.6 L444.3,371.6 L444.3,373.6 L444.4,375.6 L444.4,377.6 L444.5,379.6 L444.5,381.6 L444.6,383.7 L444.6,385.7 L444.7,387.7 L444.7,389.7 L444.8,391.7 L444.8,393.7 L444.9,395.7 L444.9,397.7 L445.0,399.7 L445.0,401.7 L445.1,403.8 L445.1,405.8 L445.2,407.8 L445.2,409.8 L445.3,411.8 L445.4,409.7 L445.5,407.6 L445.6,405.5 L445.7,403.4 L445.8,401.2 L445.9,399.1 L446.0,397.0 L446.1,394.9 L446.2,392.8 L446.3,390.7 L446.4,388.6 L446.5,386.4 L446.6,384.3 L446.7,382.2 L446.8,380.1 L446.9,378.0 L447.1,375.9 L447.3,373.7 L447.5,371.6 L447.7,369.4 L447.9,367.3 L448.2,365.2 L448.4,363.0 L448.6,360.9 L448.8,358.7 L449.0,356.6 L449.4,358.6 L449.8,360.7 L450.2,362.7 L450.7,364.7 L451.1,366.8 L451.5,368.8 L452.1,371.1 L452.7,373.4 L453.3,375.7 L453.9,378.0 L454.3,376.0 L454.6,373.9 L455.0,371.9 L455.4,369.9 L455.7,367.8 L456.1,365.8 L457.1,367.8 L458.1,369.9 L459.1,371.9 L459.8,369.8 L460.4,367.8 L461.1,365.8 L461.8,363.7 L462.4,361.7 L463.1,359.6 L463.4,361.7 L463.6,363.7 L463.9,365.8 L464.1,367.8 L464.4,369.9 L464.6,371.9 L464.9,373.9 L465.2,376.0 L465.4,378.1 L465.7,380.1 L465.9,382.1 L466.2,384.2 L466.7,382.1 L467.2,380.1 L467.8,378.0 L468.3,376.0 L468.8,373.9 L469.3,371.9 L469.6,373.9 L470.0,376.0 L470.4,378.0 L470.7,380.1 L471.0,382.1 L471.4,384.2 L471.5,386.2 L471.7,388.3 L471.8,390.3 L472.0,392.4 L472.1,394.4 L472.3,396.4 L472.4,398.5 L472.6,400.5 L472.7,402.6 L472.9,404.6 L473.0,406.6 L473.2,408.7 L473.3,410.7 L473.5,412.8 L473.6,414.8 L474.4,412.8 L475.2,410.7 L476.0,408.7 L476.8,410.7 L477.7,412.8 L478.5,414.8 L478.7,416.9 L479.0,418.9 L479.2,421.0 L479.4,423.0 L479.7,425.1 L479.9,427.1 L480.1,429.2 L480.4,431.2 L480.6,433.3 L481.6,435.3 L482.7,437.4 L483.7,439.4 L484.1,441.4 L484.4,443.5 L484.8,445.5 L485.2,447.5 L485.6,449.5 L485.9,451.6 L486.3,453.6 L487.1,455.5 L487.8,457.5 L488.6,459.4 L489.4,461.4 L490.2,463.3 L490.9,465.3 L491.7,467.2 L492.0,469.2 L492.4,471.3 L492.7,473.3 L493.1,475.3 L493.4,477.4 L493.8,479.4 L494.1,481.4 L494.4,483.5 L494.8,485.5 L495.1,487.5 L495.5,489.6 L495.8,491.6 L498.5,493.0 L498.8,495.0 L499.1,497.0 L499.4,499.0 L499.8,500.9 L500.1,502.9 L500.4,504.9 L500.7,506.9 L501.0,508.9 L501.3,510.9 L501.7,512.8 L502.0,514.8 L502.3,516.8 L502.6,518.8 L505.3,521.5 L505.9,523.6 L506.5,525.7 L507.1,527.8 L507.7,529.9 L508.4,532.1 L509.0,534.2 L509.6,536.3 L510.2,538.4 L510.8,540.5 L511.5,542.4 L512.2,544.3 L512.8,546.2 L513.5,548.1 L514.2,550.0 L514.9,552.0 L515.6,553.9 L516.2,555.8 L516.9,557.7 L517.6,559.6 L518.4,561.6 L519.3,563.7 L520.1,565.7 L521.0,567.8 L521.8,569.8 L522.6,571.8 L523.5,573.9 L524.3,575.9 L525.1,577.8 L525.9,579.7 L526.8,581.6 L527.6,583.5 L528.4,585.4 L529.2,587.3 L530.0,589.2 L530.9,591.1 L531.7,593.0 L532.5,594.9 L533.5,596.8 L534.4,598.8 L535.4,600.7 L536.4,602.7 L537.4,604.6 L538.3,606.6 L539.3,608.5 L540.7,610.0 L542.0,611.6 L543.4,613.1 L544.7,614.7 L546.1,616.2 L547.4,617.8 L548.8,619.3 L548.9,621.3 L549.0,623.4 L549.2,625.5 L549.3,627.5 L549.6,630.0" fill="none" stroke="#2ca02c" stroke-width="3.4" stroke-linejoin="round" stroke-linecap="butt" clip-path="url(#ca)"/>
<line x1="109.20" y1="21.90" x2="109.20" y2="632.10" stroke="#000" stroke-width="3.8"/>
<line x1="107.30" y1="23.80" x2="885.90" y2="23.80" stroke="#000" stroke-width="3.8"/>
<line x1="107.30" y1="630.20" x2="565.00" y2="630.20" stroke="#000" stroke-width="3.8"/>
<line x1="884.00" y1="21.90" x2="884.00" y2="301.80" stroke="#000" stroke-width="3.8"/>
<text x="96.20" y="641.50" font-size="29.6" text-anchor="end" >0.0</text>
<text x="96.20" y="548.21" font-size="29.6" text-anchor="end" >0.2</text>
<text x="96.20" y="454.92" font-size="29.6" text-anchor="end" >0.4</text>
<text x="96.20" y="361.62" font-size="29.6" text-anchor="end" >0.6</text>
<text x="96.20" y="268.33" font-size="29.6" text-anchor="end" >0.8</text>
<text x="96.20" y="175.04" font-size="29.6" text-anchor="end" >1.0</text>
<text x="96.20" y="81.75" font-size="29.6" text-anchor="end" >1.2</text>
<text x="109.20" y="667.00" font-size="29.6" text-anchor="middle" >0</text>
<text x="285.29" y="667.00" font-size="29.6" text-anchor="middle" >50</text>
<text x="461.38" y="667.00" font-size="29.6" text-anchor="middle" >100</text>
<line x1="742.2" y1="62.50" x2="800.8" y2="62.50" stroke="#ff7f0e" stroke-width="3.4" stroke-linecap="round"/>
<text x="824.20" y="73.10" font-size="29.6" text-anchor="start" >Cr</text>
<line x1="741.9" y1="105.65" x2="801.6" y2="105.65" stroke="#1f77b4" stroke-width="3.4" stroke-dasharray="2.2,2.22"/>
<text x="824.20" y="116.25" font-size="29.6" text-anchor="start" >Al</text>
<line x1="742.2" y1="148.80" x2="800.8" y2="148.80" stroke="#2ca02c" stroke-width="3.4" stroke-linecap="round"/>
<text x="824.20" y="159.40" font-size="29.6" text-anchor="start" >Ti</text>
<text x="495.90" y="710.60" font-size="29.6" text-anchor="middle" >time [µs]</text>
<text transform="translate(26.7,327.7) rotate(-90)" font-size="29.6" text-anchor="middle">electron density [10<tspan font-size="20.72" dy="-11.2">20</tspan><tspan dy="11.2"> m</tspan><tspan font-size="20.72" dy="-11.2">−3</tspan><tspan dy="11.2">]</tspan></text>
<text x="21.20" y="24.20" font-size="29.6" text-anchor="start" >a)</text>
<rect x="565.0" y="301.8" width="340" height="420" fill="#fff"/>
<line x1="679.25" y1="676.80" x2="679.25" y2="659.80" stroke="#000" stroke-width="3.1"/>
<line x1="762.50" y1="676.80" x2="762.50" y2="659.80" stroke="#000" stroke-width="3.1"/>
<line x1="845.75" y1="676.80" x2="845.75" y2="659.80" stroke="#000" stroke-width="3.1"/>
<line x1="629.30" y1="676.80" x2="629.30" y2="670.10" stroke="#000" stroke-width="2.2"/>
<line x1="645.95" y1="676.80" x2="645.95" y2="670.10" stroke="#000" stroke-width="2.2"/>
<line x1="662.60" y1="676.80" x2="662.60" y2="670.10" stroke="#000" stroke-width="2.2"/>
<line x1="695.90" y1="676.80" x2="695.90" y2="670.10" stroke="#000" stroke-width="2.2"/>
<line x1="712.55" y1="676.80" x2="712.55" y2="670.10" stroke="#000" stroke-width="2.2"/>
<line x1="729.20" y1="676.80" x2="729.20" y2="670.10" stroke="#000" stroke-width="2.2"/>
<line x1="745.85" y1="676.80" x2="745.85" y2="670.10" stroke="#000" stroke-width="2.2"/>
<line x1="779.15" y1="676.80" x2="779.15" y2="670.10" stroke="#000" stroke-width="2.2"/>
<line x1="795.80" y1="676.80" x2="795.80" y2="670.10" stroke="#000" stroke-width="2.2"/>
<line x1="812.45" y1="676.80" x2="812.45" y2="670.10" stroke="#000" stroke-width="2.2"/>
<line x1="829.10" y1="676.80" x2="829.10" y2="670.10" stroke="#000" stroke-width="2.2"/>
<line x1="862.40" y1="676.80" x2="862.40" y2="670.10" stroke="#000" stroke-width="2.2"/>
<line x1="879.05" y1="676.80" x2="879.05" y2="670.10" stroke="#000" stroke-width="2.2"/>
<line x1="895.70" y1="676.80" x2="895.70" y2="670.10" stroke="#000" stroke-width="2.2"/>
<line x1="629.30" y1="645.01" x2="646.30" y2="645.01" stroke="#000" stroke-width="3.1"/>
<line x1="895.70" y1="645.01" x2="878.70" y2="645.01" stroke="#000" stroke-width="3.1"/>
<line x1="629.30" y1="551.64" x2="646.30" y2="551.64" stroke="#000" stroke-width="3.1"/>
<line x1="895.70" y1="551.64" x2="878.70" y2="551.64" stroke="#000" stroke-width="3.1"/>
<line x1="629.30" y1="458.26" x2="646.30" y2="458.26" stroke="#000" stroke-width="3.1"/>
<line x1="895.70" y1="458.26" x2="878.70" y2="458.26" stroke="#000" stroke-width="3.1"/>
<line x1="629.30" y1="364.89" x2="646.30" y2="364.89" stroke="#000" stroke-width="3.1"/>
<line x1="895.70" y1="364.89" x2="878.70" y2="364.89" stroke="#000" stroke-width="3.1"/>
<line x1="629.30" y1="668.35" x2="636.00" y2="668.35" stroke="#000" stroke-width="2.2"/>
<line x1="895.70" y1="668.35" x2="889.00" y2="668.35" stroke="#000" stroke-width="2.2"/>
<line x1="629.30" y1="621.66" x2="636.00" y2="621.66" stroke="#000" stroke-width="2.2"/>
<line x1="895.70" y1="621.66" x2="889.00" y2="621.66" stroke="#000" stroke-width="2.2"/>
<line x1="629.30" y1="598.32" x2="636.00" y2="598.32" stroke="#000" stroke-width="2.2"/>
<line x1="895.70" y1="598.32" x2="889.00" y2="598.32" stroke="#000" stroke-width="2.2"/>
<line x1="629.30" y1="574.98" x2="636.00" y2="574.98" stroke="#000" stroke-width="2.2"/>
<line x1="895.70" y1="574.98" x2="889.00" y2="574.98" stroke="#000" stroke-width="2.2"/>
<line x1="629.30" y1="528.29" x2="636.00" y2="528.29" stroke="#000" stroke-width="2.2"/>
<line x1="895.70" y1="528.29" x2="889.00" y2="528.29" stroke="#000" stroke-width="2.2"/>
<line x1="629.30" y1="504.95" x2="636.00" y2="504.95" stroke="#000" stroke-width="2.2"/>
<line x1="895.70" y1="504.95" x2="889.00" y2="504.95" stroke="#000" stroke-width="2.2"/>
<line x1="629.30" y1="481.61" x2="636.00" y2="481.61" stroke="#000" stroke-width="2.2"/>
<line x1="895.70" y1="481.61" x2="889.00" y2="481.61" stroke="#000" stroke-width="2.2"/>
<line x1="629.30" y1="434.92" x2="636.00" y2="434.92" stroke="#000" stroke-width="2.2"/>
<line x1="895.70" y1="434.92" x2="889.00" y2="434.92" stroke="#000" stroke-width="2.2"/>
<line x1="629.30" y1="411.58" x2="636.00" y2="411.58" stroke="#000" stroke-width="2.2"/>
<line x1="895.70" y1="411.58" x2="889.00" y2="411.58" stroke="#000" stroke-width="2.2"/>
<line x1="629.30" y1="388.24" x2="636.00" y2="388.24" stroke="#000" stroke-width="2.2"/>
<line x1="895.70" y1="388.24" x2="889.00" y2="388.24" stroke="#000" stroke-width="2.2"/>
<line x1="629.30" y1="341.55" x2="636.00" y2="341.55" stroke="#000" stroke-width="2.2"/>
<line x1="895.70" y1="341.55" x2="889.00" y2="341.55" stroke="#000" stroke-width="2.2"/>
<path d="M625.0,468.1 L629.8,468.1 L637.8,468.1 L644.3,464.9 L650.7,462.3 L655.5,458.5 L659.7,455.9 L662.9,450.4 L668.4,446.2 L673.2,440.8 L678.0,434.4 L682.8,431.2 L687.6,428.9 L690.8,423.8 L697.3,419.3 L704.6,412.9 L707.9,407.1 L714.9,400.0 L721.3,392.6 L727.8,384.6 L735.8,375.0 L743.8,366.9 L751.8,358.9 L755.0,356.5 L758.3,351.8 L760.3,350.7 L765.6,346.4 L770.9,344.6 L776.2,345.4 L781.5,347.2 L786.8,350.7 L792.1,355.2 L794.8,357.8 L797.4,363.1 L801.4,363.1 L806.7,365.8 L810.7,371.1 L816.0,373.7 L821.3,379.0 L826.6,387.0 L831.9,393.6 L837.2,402.9 L842.5,413.5 L847.8,421.5 L853.1,429.4 L858.4,434.7 L863.7,440.0 L869.0,445.3 L874.3,449.8 L879.6,453.3 L884.9,454.6 L890.2,454.6 L900.0,454.1" fill="none" stroke="#ff7f0e" stroke-width="3.0" stroke-linejoin="round" stroke-linecap="butt" clip-path="url(#ci)"/>
<path d="M625.0,552.0 L630.6,551.3 L638.4,547.9 L645.1,543.4 L651.8,541.2 L660.7,542.3 L669.7,545.7 L676.4,551.3 L683.0,560.2 L689.7,568.0 L696.4,572.5 L703.1,573.6 L707.6,570.2 L711.0,564.7 L714.3,560.2 L716.5,551.3 L719.9,544.6 L724.4,536.7 L728.8,527.8 L734.2,509.8 L740.6,490.6 L747.0,471.3 L753.5,463.3 L759.0,454.6 L763.0,450.6 L765.6,454.6 L766.9,467.9 L768.3,489.1 L769.6,510.3 L770.6,525.1 L772.1,562.7 L773.8,600.4 L776.3,633.0 L778.8,650.5 L780.6,655.0 L782.6,648.0 L785.1,635.5 L788.9,612.9 L792.6,590.3 L797.6,565.2 L802.7,547.7 L807.7,532.6 L810.2,523.8 L814.0,526.3 L819.0,521.3 L822.7,518.8 L827.8,523.8 L835.3,528.9 L842.8,531.4 L850.3,532.6 L855.3,537.6 L862.9,546.4 L870.4,551.4 L875.4,552.7 L883.0,550.2 L890.5,547.7 L900.0,543.0" fill="none" stroke="#1f77b4" stroke-width="3.0" stroke-linejoin="round" stroke-linecap="butt" stroke-dasharray="2.4,2.0" clip-path="url(#ci)"/>
<path d="M625.0,585.9 L630.6,585.9 L636.2,587.0 L645.1,588.1 L654.0,587.0 L660.7,584.7 L666.3,583.6 L673.0,579.2 L679.7,576.9 L685.3,573.6 L690.9,574.7 L696.4,573.6 L700.9,575.8 L705.4,582.5 L711.0,591.4 L716.5,597.0 L721.4,600.4 L725.5,598.1 L729.9,589.2 L734.4,578.0 L738.9,569.1 L743.3,562.4 L750.0,558.0 L755.0,555.7 L762.5,553.2 L766.3,557.7 L770.1,575.3 L773.8,595.3 L777.6,610.4 L780.8,613.4 L783.9,607.9 L788.9,597.8 L793.9,586.6 L798.9,575.3 L805.2,564.0 L812.7,557.7 L820.2,560.2 L827.8,566.5 L835.3,572.8 L842.8,577.8 L851.6,580.8 L855.3,579.0 L865.4,574.0 L872.9,569.0 L880.4,566.5 L887.9,567.2 L900.0,570.0" fill="none" stroke="#2ca02c" stroke-width="3.0" stroke-linejoin="round" stroke-linecap="butt" clip-path="url(#ci)"/>
<line x1="629.30" y1="317.35" x2="629.30" y2="678.45" stroke="#000" stroke-width="3.3"/>
<line x1="627.65" y1="319.00" x2="897.35" y2="319.00" stroke="#000" stroke-width="3.3"/>
<line x1="627.65" y1="676.80" x2="897.35" y2="676.80" stroke="#000" stroke-width="3.3"/>
<line x1="895.70" y1="317.35" x2="895.70" y2="678.45" stroke="#000" stroke-width="3.3"/>
<text x="617.30" y="655.01" font-size="26.5" text-anchor="end" >0.4</text>
<text x="617.30" y="561.64" font-size="26.5" text-anchor="end" >0.6</text>
<text x="617.30" y="468.26" font-size="26.5" text-anchor="end" >0.8</text>
<text x="617.30" y="374.89" font-size="26.5" text-anchor="end" >1.0</text>
<text x="679.25" y="709.50" font-size="26.5" text-anchor="middle" >92.5</text>
<text x="762.50" y="709.50" font-size="26.5" text-anchor="middle" >95.0</text>
<text x="845.75" y="709.50" font-size="26.5" text-anchor="middle" >97.5</text>
<line x1="1086.40" y1="630.00" x2="1086.40" y2="610.50" stroke="#000" stroke-width="3.5"/>
<line x1="1183.86" y1="630.00" x2="1183.86" y2="610.50" stroke="#000" stroke-width="3.5"/>
<line x1="1281.31" y1="630.00" x2="1281.31" y2="610.50" stroke="#000" stroke-width="3.5"/>
<line x1="1378.77" y1="630.00" x2="1378.77" y2="610.50" stroke="#000" stroke-width="3.5"/>
<line x1="1476.22" y1="630.00" x2="1476.22" y2="610.50" stroke="#000" stroke-width="3.5"/>
<line x1="1573.68" y1="630.00" x2="1573.68" y2="610.50" stroke="#000" stroke-width="3.5"/>
<line x1="1671.13" y1="630.00" x2="1671.13" y2="610.50" stroke="#000" stroke-width="3.5"/>
<line x1="1768.59" y1="630.00" x2="1768.59" y2="610.50" stroke="#000" stroke-width="3.5"/>
<line x1="1110.76" y1="630.00" x2="1110.76" y2="622.00" stroke="#000" stroke-width="2.5"/>
<line x1="1135.13" y1="630.00" x2="1135.13" y2="622.00" stroke="#000" stroke-width="2.5"/>
<line x1="1159.49" y1="630.00" x2="1159.49" y2="622.00" stroke="#000" stroke-width="2.5"/>
<line x1="1208.22" y1="630.00" x2="1208.22" y2="622.00" stroke="#000" stroke-width="2.5"/>
<line x1="1232.58" y1="630.00" x2="1232.58" y2="622.00" stroke="#000" stroke-width="2.5"/>
<line x1="1256.95" y1="630.00" x2="1256.95" y2="622.00" stroke="#000" stroke-width="2.5"/>
<line x1="1305.67" y1="630.00" x2="1305.67" y2="622.00" stroke="#000" stroke-width="2.5"/>
<line x1="1330.04" y1="630.00" x2="1330.04" y2="622.00" stroke="#000" stroke-width="2.5"/>
<line x1="1354.40" y1="630.00" x2="1354.40" y2="622.00" stroke="#000" stroke-width="2.5"/>
<line x1="1403.13" y1="630.00" x2="1403.13" y2="622.00" stroke="#000" stroke-width="2.5"/>
<line x1="1427.49" y1="630.00" x2="1427.49" y2="622.00" stroke="#000" stroke-width="2.5"/>
<line x1="1451.86" y1="630.00" x2="1451.86" y2="622.00" stroke="#000" stroke-width="2.5"/>
<line x1="1500.58" y1="630.00" x2="1500.58" y2="622.00" stroke="#000" stroke-width="2.5"/>
<line x1="1524.95" y1="630.00" x2="1524.95" y2="622.00" stroke="#000" stroke-width="2.5"/>
<line x1="1549.31" y1="630.00" x2="1549.31" y2="622.00" stroke="#000" stroke-width="2.5"/>
<line x1="1598.04" y1="630.00" x2="1598.04" y2="622.00" stroke="#000" stroke-width="2.5"/>
<line x1="1622.40" y1="630.00" x2="1622.40" y2="622.00" stroke="#000" stroke-width="2.5"/>
<line x1="1646.77" y1="630.00" x2="1646.77" y2="622.00" stroke="#000" stroke-width="2.5"/>
<line x1="1695.50" y1="630.00" x2="1695.50" y2="622.00" stroke="#000" stroke-width="2.5"/>
<line x1="1719.86" y1="630.00" x2="1719.86" y2="622.00" stroke="#000" stroke-width="2.5"/>
<line x1="1744.22" y1="630.00" x2="1744.22" y2="622.00" stroke="#000" stroke-width="2.5"/>
<line x1="1792.95" y1="630.00" x2="1792.95" y2="622.00" stroke="#000" stroke-width="2.5"/>
<line x1="1817.31" y1="630.00" x2="1817.31" y2="622.00" stroke="#000" stroke-width="2.5"/>
<line x1="1841.68" y1="630.00" x2="1841.68" y2="622.00" stroke="#000" stroke-width="2.5"/>
<line x1="1086.40" y1="630.00" x2="1105.90" y2="630.00" stroke="#000" stroke-width="3.5"/>
<line x1="1848.50" y1="630.00" x2="1829.00" y2="630.00" stroke="#000" stroke-width="3.5"/>
<line x1="1086.40" y1="517.76" x2="1105.90" y2="517.76" stroke="#000" stroke-width="3.5"/>
<line x1="1848.50" y1="517.76" x2="1829.00" y2="517.76" stroke="#000" stroke-width="3.5"/>
<line x1="1086.40" y1="405.52" x2="1105.90" y2="405.52" stroke="#000" stroke-width="3.5"/>
<line x1="1848.50" y1="405.52" x2="1829.00" y2="405.52" stroke="#000" stroke-width="3.5"/>
<line x1="1086.40" y1="293.28" x2="1105.90" y2="293.28" stroke="#000" stroke-width="3.5"/>
<line x1="1848.50" y1="293.28" x2="1829.00" y2="293.28" stroke="#000" stroke-width="3.5"/>
<line x1="1086.40" y1="181.04" x2="1105.90" y2="181.04" stroke="#000" stroke-width="3.5"/>
<line x1="1848.50" y1="181.04" x2="1829.00" y2="181.04" stroke="#000" stroke-width="3.5"/>
<line x1="1086.40" y1="68.80" x2="1105.90" y2="68.80" stroke="#000" stroke-width="3.5"/>
<line x1="1848.50" y1="68.80" x2="1829.00" y2="68.80" stroke="#000" stroke-width="3.5"/>
<line x1="1086.40" y1="607.55" x2="1094.40" y2="607.55" stroke="#000" stroke-width="2.5"/>
<line x1="1848.50" y1="607.55" x2="1840.50" y2="607.55" stroke="#000" stroke-width="2.5"/>
<line x1="1086.40" y1="585.10" x2="1094.40" y2="585.10" stroke="#000" stroke-width="2.5"/>
<line x1="1848.50" y1="585.10" x2="1840.50" y2="585.10" stroke="#000" stroke-width="2.5"/>
<line x1="1086.40" y1="562.66" x2="1094.40" y2="562.66" stroke="#000" stroke-width="2.5"/>
<line x1="1848.50" y1="562.66" x2="1840.50" y2="562.66" stroke="#000" stroke-width="2.5"/>
<line x1="1086.40" y1="540.21" x2="1094.40" y2="540.21" stroke="#000" stroke-width="2.5"/>
<line x1="1848.50" y1="540.21" x2="1840.50" y2="540.21" stroke="#000" stroke-width="2.5"/>
<line x1="1086.40" y1="495.31" x2="1094.40" y2="495.31" stroke="#000" stroke-width="2.5"/>
<line x1="1848.50" y1="495.31" x2="1840.50" y2="495.31" stroke="#000" stroke-width="2.5"/>
<line x1="1086.40" y1="472.86" x2="1094.40" y2="472.86" stroke="#000" stroke-width="2.5"/>
<line x1="1848.50" y1="472.86" x2="1840.50" y2="472.86" stroke="#000" stroke-width="2.5"/>
<line x1="1086.40" y1="450.41" x2="1094.40" y2="450.41" stroke="#000" stroke-width="2.5"/>
<line x1="1848.50" y1="450.41" x2="1840.50" y2="450.41" stroke="#000" stroke-width="2.5"/>
<line x1="1086.40" y1="427.97" x2="1094.40" y2="427.97" stroke="#000" stroke-width="2.5"/>
<line x1="1848.50" y1="427.97" x2="1840.50" y2="427.97" stroke="#000" stroke-width="2.5"/>
<line x1="1086.40" y1="383.07" x2="1094.40" y2="383.07" stroke="#000" stroke-width="2.5"/>
<line x1="1848.50" y1="383.07" x2="1840.50" y2="383.07" stroke="#000" stroke-width="2.5"/>
<line x1="1086.40" y1="360.62" x2="1094.40" y2="360.62" stroke="#000" stroke-width="2.5"/>
<line x1="1848.50" y1="360.62" x2="1840.50" y2="360.62" stroke="#000" stroke-width="2.5"/>
<line x1="1086.40" y1="338.17" x2="1094.40" y2="338.17" stroke="#000" stroke-width="2.5"/>
<line x1="1848.50" y1="338.17" x2="1840.50" y2="338.17" stroke="#000" stroke-width="2.5"/>
<line x1="1086.40" y1="315.73" x2="1094.40" y2="315.73" stroke="#000" stroke-width="2.5"/>
<line x1="1848.50" y1="315.73" x2="1840.50" y2="315.73" stroke="#000" stroke-width="2.5"/>
<line x1="1086.40" y1="270.83" x2="1094.40" y2="270.83" stroke="#000" stroke-width="2.5"/>
<line x1="1848.50" y1="270.83" x2="1840.50" y2="270.83" stroke="#000" stroke-width="2.5"/>
<line x1="1086.40" y1="248.38" x2="1094.40" y2="248.38" stroke="#000" stroke-width="2.5"/>
<line x1="1848.50" y1="248.38" x2="1840.50" y2="248.38" stroke="#000" stroke-width="2.5"/>
<line x1="1086.40" y1="225.93" x2="1094.40" y2="225.93" stroke="#000" stroke-width="2.5"/>
<line x1="1848.50" y1="225.93" x2="1840.50" y2="225.93" stroke="#000" stroke-width="2.5"/>
<line x1="1086.40" y1="203.49" x2="1094.40" y2="203.49" stroke="#000" stroke-width="2.5"/>
<line x1="1848.50" y1="203.49" x2="1840.50" y2="203.49" stroke="#000" stroke-width="2.5"/>
<line x1="1086.40" y1="158.59" x2="1094.40" y2="158.59" stroke="#000" stroke-width="2.5"/>
<line x1="1848.50" y1="158.59" x2="1840.50" y2="158.59" stroke="#000" stroke-width="2.5"/>
<line x1="1086.40" y1="136.14" x2="1094.40" y2="136.14" stroke="#000" stroke-width="2.5"/>
<line x1="1848.50" y1="136.14" x2="1840.50" y2="136.14" stroke="#000" stroke-width="2.5"/>
<line x1="1086.40" y1="113.69" x2="1094.40" y2="113.69" stroke="#000" stroke-width="2.5"/>
<line x1="1848.50" y1="113.69" x2="1840.50" y2="113.69" stroke="#000" stroke-width="2.5"/>
<line x1="1086.40" y1="91.24" x2="1094.40" y2="91.24" stroke="#000" stroke-width="2.5"/>
<line x1="1848.50" y1="91.24" x2="1840.50" y2="91.24" stroke="#000" stroke-width="2.5"/>
<line x1="1086.40" y1="46.35" x2="1094.40" y2="46.35" stroke="#000" stroke-width="2.5"/>
<line x1="1848.50" y1="46.35" x2="1840.50" y2="46.35" stroke="#000" stroke-width="2.5"/>
<line x1="1086.40" y1="23.90" x2="1094.40" y2="23.90" stroke="#000" stroke-width="2.5"/>
<line x1="1848.50" y1="23.90" x2="1840.50" y2="23.90" stroke="#000" stroke-width="2.5"/>
<path d="M1212.2,215.8 L1212.3,213.8 L1212.4,211.7 L1212.5,209.7 L1212.5,207.6 L1212.6,205.6 L1212.7,203.5 L1212.8,201.5 L1215.7,199.5 L1218.7,201.5 L1218.8,203.8 L1219.0,206.0 L1219.2,208.3 L1219.3,210.6 L1219.4,212.8 L1219.6,215.1 L1219.7,213.0 L1219.8,210.8 L1219.9,208.7 L1220.0,206.6 L1220.1,204.5 L1220.1,202.3 L1220.2,200.2 L1220.3,198.1 L1220.4,196.0 L1220.5,193.8 L1220.6,191.7 L1222.6,189.8 L1222.6,191.8 L1222.6,193.8 L1222.6,195.8 L1222.7,197.8 L1222.7,199.8 L1222.7,201.8 L1222.7,203.9 L1222.7,205.9 L1222.7,207.9 L1222.8,209.9 L1222.8,211.9 L1222.8,213.9 L1222.8,215.9 L1222.8,217.9 L1222.8,219.9 L1222.8,221.9 L1222.9,223.9 L1222.9,225.9 L1222.9,227.9 L1222.9,230.0 L1222.9,232.0 L1222.9,234.0 L1223.0,236.0 L1223.0,238.0 L1223.0,240.0 L1223.0,242.0 L1223.0,240.0 L1223.0,238.0 L1223.1,236.0 L1223.1,234.0 L1223.1,232.0 L1223.1,230.0 L1223.1,227.9 L1223.2,225.9 L1223.2,223.9 L1223.2,221.9 L1223.2,219.9 L1223.2,217.9 L1223.2,215.9 L1223.3,213.9 L1223.3,211.9 L1223.3,209.9 L1223.3,207.9 L1223.3,205.9 L1223.4,203.9 L1223.4,201.8 L1223.4,199.8 L1223.4,197.8 L1223.4,195.8 L1223.5,193.8 L1223.5,191.8 L1223.5,189.8 L1225.5,189.3 L1227.4,188.8 L1228.6,187.1 L1229.8,185.4 L1231.1,183.8 L1232.3,182.0 L1232.6,180.8 L1232.9,176.8 L1233.2,176.1 L1233.4,172.8 L1233.7,170.6 L1234.0,170.1 L1234.3,166.3 L1234.8,164.5 L1235.2,162.4 L1235.7,161.0 L1236.2,158.5 L1236.7,157.0 L1237.2,153.6 L1237.7,151.7 L1238.2,148.8 L1239.7,146.1 L1241.1,144.9 L1242.1,142.6 L1243.0,140.6 L1244.0,139.0 L1245.0,135.7 L1246.0,133.3 L1247.0,132.2 L1249.9,133.2 L1250.8,134.3 L1251.8,138.0 L1252.5,135.6 L1253.3,133.5 L1254.0,131.2 L1254.8,129.3 L1257.7,131.2 L1259.2,129.3 L1260.6,127.3 L1262.0,124.3 L1263.5,123.4 L1266.5,125.4 L1267.0,127.8 L1267.5,130.4 L1267.9,133.3 L1268.4,135.1 L1271.3,133.2 L1274.3,135.1 L1274.8,136.4 L1275.2,138.7 L1275.7,139.3 L1276.2,142.9 L1276.9,144.4 L1277.7,145.0 L1278.4,147.6 L1279.1,150.7 L1280.6,149.6 L1282.1,146.8 L1285.0,145.7 L1286.4,145.6 L1287.8,149.0 L1288.9,151.9 L1290.0,153.5 L1292.3,154.6 L1295.6,153.5 L1298.4,154.6 L1299.8,157.1 L1301.2,159.1 L1301.8,156.6 L1302.3,155.0 L1302.9,152.8 L1303.4,150.1 L1306.8,151.2 L1310.1,149.6 L1312.4,152.4 L1314.0,150.1 L1314.8,153.7 L1315.7,155.7 L1317.9,153.5 L1319.1,155.8 L1320.2,158.5 L1323.5,157.9 L1324.1,160.0 L1324.6,162.6 L1325.2,165.7 L1327.2,167.2 L1329.1,170.2 L1330.8,171.6 L1332.4,173.0 L1335.2,171.3 L1336.0,172.5 L1336.7,175.9 L1337.5,176.9 L1339.7,173.6 L1341.9,170.8 L1343.3,171.3 L1344.7,174.7 L1345.8,175.5 L1347.0,177.3 L1348.1,179.7 L1348.9,176.1 L1349.8,177.3 L1350.6,171.9 L1351.4,171.9 L1352.5,173.3 L1353.7,174.8 L1354.8,176.9 L1355.2,180.3 L1355.5,179.4 L1355.9,183.0 L1358.7,180.3 L1360.1,178.6 L1361.5,175.2 L1362.6,176.5 L1363.7,178.8 L1364.8,180.8 L1368.1,178.6 L1370.3,177.2 L1372.6,176.9 L1376.0,175.8 L1377.1,178.8 L1378.2,180.8 L1381.5,178.6 L1382.6,179.4 L1383.8,181.9 L1384.9,183.6 L1386.0,181.6 L1387.1,180.6 L1388.2,176.9 L1391.0,174.7 L1392.3,174.6 L1393.6,179.7 L1394.9,180.3 L1396.0,179.2 L1397.2,176.2 L1398.3,174.7 L1401.6,173.0 L1401.9,175.4 L1402.3,176.9 L1402.6,180.7 L1403.0,181.6 L1403.3,183.6 L1403.6,181.4 L1403.9,179.3 L1404.2,177.3 L1404.4,175.3 L1404.7,172.6 L1405.0,171.3 L1407.2,173.2 L1409.4,171.9 L1411.1,169.3 L1412.8,169.7 L1413.9,169.6 L1415.0,175.2 L1415.7,173.0 L1416.4,170.8 L1417.0,169.1 L1417.7,166.6 L1418.4,164.6 L1420.6,165.0 L1422.8,165.7 L1425.0,168.0 L1426.5,166.6 L1428.0,165.4 L1429.5,163.0 L1431.5,161.9 L1433.5,161.6 L1434.4,163.2 L1435.2,167.0 L1436.1,167.8 L1437.0,169.3 L1437.5,166.5 L1438.0,167.1 L1438.6,163.9 L1439.1,160.8 L1439.6,158.3 L1440.2,157.5 L1440.7,154.5 L1441.2,153.2 L1441.9,154.3 L1442.6,156.0 L1443.3,158.6 L1444.0,160.9 L1445.1,159.9 L1446.3,156.8 L1447.4,155.3 L1449.0,153.0 L1450.7,153.5 L1452.3,151.8 L1453.0,153.8 L1453.7,156.3 L1454.4,158.5 L1455.1,159.5 L1455.9,157.5 L1456.7,155.6 L1457.5,153.7 L1458.2,150.9 L1459.0,150.5 L1459.8,149.1 L1460.6,146.3 L1461.4,144.2 L1462.3,146.0 L1463.3,147.9 L1464.2,149.5 L1465.1,151.4 L1466.1,153.7 L1467.0,156.0 L1467.8,153.4 L1468.6,151.9 L1469.4,149.1 L1470.1,148.7 L1470.9,146.6 L1471.7,143.8 L1472.5,142.8 L1473.3,142.8 L1474.1,146.5 L1475.0,149.2 L1475.8,149.6 L1476.6,151.7 L1477.4,153.9 L1478.2,151.6 L1479.0,150.7 L1479.8,147.5 L1480.6,147.1 L1481.4,144.2 L1482.2,143.3 L1483.0,140.7 L1484.8,142.8 L1486.5,144.9 L1487.4,142.8 L1488.4,140.0 L1489.3,139.3 L1490.1,140.8 L1491.0,143.3 L1491.8,146.1 L1492.7,147.8 L1493.5,149.7 L1496.3,147.7 L1496.8,145.1 L1497.3,144.0 L1497.8,142.5 L1498.2,139.6 L1498.7,137.3 L1499.2,135.4 L1499.7,133.7 L1500.2,136.3 L1500.6,138.1 L1501.1,138.9 L1501.6,141.9 L1502.0,143.2 L1502.5,144.9 L1503.0,148.5 L1503.4,150.2 L1503.9,150.9 L1504.4,153.5 L1504.8,155.8 L1505.3,157.4 L1505.7,154.8 L1506.1,153.1 L1506.5,151.7 L1506.9,147.6 L1507.3,147.2 L1507.7,145.4 L1508.1,143.2 L1508.5,139.6 L1508.9,138.8 L1509.3,135.8 L1509.7,134.8 L1510.1,132.8 L1510.5,130.4 L1510.9,128.1 L1511.3,129.5 L1511.8,131.7 L1512.2,134.9 L1512.6,135.5 L1513.1,138.7 L1513.5,140.7 L1513.9,142.1 L1514.3,146.3 L1514.8,146.5 L1515.2,150.2 L1515.6,148.9 L1516.1,150.8 L1516.5,154.6 L1516.9,153.3 L1517.4,150.9 L1517.8,148.1 L1518.2,146.2 L1518.7,142.6 L1519.1,141.5 L1519.5,139.1 L1519.9,137.7 L1520.4,136.5 L1520.8,133.7 L1521.2,131.9 L1521.7,128.9 L1522.1,127.4 L1522.7,129.0 L1523.3,131.5 L1523.8,133.1 L1524.4,136.3 L1525.0,136.6 L1525.6,139.3 L1527.3,139.1 L1529.0,135.8 L1530.2,136.9 L1531.3,140.4 L1532.5,141.4 L1533.0,138.8 L1533.4,138.7 L1533.8,135.5 L1534.3,133.7 L1534.8,132.0 L1535.2,128.9 L1535.7,126.6 L1536.1,123.8 L1536.5,124.4 L1537.0,120.9 L1537.5,119.0 L1537.9,117.5 L1538.3,117.1 L1538.8,113.5 L1539.0,114.1 L1539.2,117.7 L1539.4,119.2 L1539.6,121.9 L1539.8,122.0 L1539.9,125.2 L1540.1,127.5 L1540.3,129.5 L1540.5,131.5 L1540.7,133.5 L1540.9,135.4 L1541.1,137.4 L1541.3,139.4 L1541.5,141.4 L1541.7,143.4 L1541.9,145.4 L1542.0,147.4 L1542.2,149.4 L1542.4,151.4 L1542.6,153.4 L1542.8,155.4 L1543.0,157.4 L1543.6,155.3 L1544.1,153.2 L1544.7,151.2 L1545.2,149.1 L1545.8,147.0 L1545.9,145.0 L1546.1,142.9 L1546.2,140.9 L1546.3,138.8 L1546.5,136.8 L1546.6,134.8 L1546.7,132.7 L1546.9,130.7 L1547.0,128.7 L1547.1,126.6 L1547.3,124.6 L1547.4,122.5 L1547.5,120.5 L1547.7,118.5 L1547.8,116.4 L1548.0,114.4 L1548.1,112.3 L1548.2,110.3 L1548.4,108.3 L1548.5,106.2 L1548.6,104.2 L1548.8,102.2 L1548.9,100.1 L1549.0,98.1 L1549.2,96.0 L1549.3,94.0 L1549.5,96.0 L1549.7,98.0 L1550.0,100.0 L1550.2,102.0 L1550.4,104.0 L1550.6,106.0 L1550.8,108.1 L1551.1,110.1 L1551.3,112.1 L1551.5,114.1 L1551.7,116.1 L1551.9,118.1 L1552.2,120.1 L1552.4,122.1 L1552.6,124.1 L1552.8,126.1 L1553.0,128.1 L1553.3,130.1 L1553.5,132.2 L1553.7,134.2 L1553.9,136.2 L1554.1,138.2 L1554.4,140.2 L1554.6,142.2 L1554.8,144.2 L1555.1,142.1 L1555.5,140.0 L1555.8,137.9 L1556.2,135.8 L1556.5,133.7 L1556.9,131.6 L1557.2,129.6 L1557.6,127.5 L1558.0,125.4 L1558.3,123.3 L1558.7,121.2 L1559.0,119.1 L1559.4,117.0 L1559.7,114.9 L1562.5,112.8 L1563.1,114.9 L1563.7,117.0 L1564.2,119.0 L1564.8,121.1 L1565.4,123.2 L1566.0,125.3 L1567.8,122.9 L1569.5,120.5 L1570.9,118.0 L1572.3,115.6 L1573.7,117.7" fill="none" stroke="#2ca02c" stroke-width="3.4" stroke-linejoin="round" stroke-linecap="butt" clip-path="url(#cb)"/>
<path d="M1193.2,103.2 L1193.4,104.2 L1193.5,106.2 L1193.7,109.8 L1193.9,109.2 L1194.1,113.1 L1194.2,113.2 L1194.4,118.3 L1194.6,119.3 L1194.7,121.3 L1194.8,124.2 L1194.9,124.3 L1195.0,127.0 L1195.1,128.2 L1195.2,129.6 L1195.3,132.2 L1195.3,132.8 L1195.4,135.4 L1195.5,138.2 L1195.6,139.4 L1195.7,140.8 L1195.8,145.0 L1195.9,144.9 L1196.0,146.1 L1196.1,148.5 L1196.2,150.5 L1196.2,151.8 L1196.3,153.8 L1196.4,155.7 L1196.4,159.8 L1196.5,159.8 L1196.5,161.9 L1196.6,164.2 L1196.7,167.3 L1196.7,167.2 L1196.8,168.7 L1196.9,173.4 L1196.9,171.7 L1197.0,174.9 L1199.0,177.8 L1199.1,179.3 L1199.2,182.1 L1199.3,185.3 L1199.4,184.3 L1199.5,184.8 L1199.6,189.4 L1199.7,190.1 L1199.8,192.1 L1199.8,194.7 L1199.9,196.3 L1200.0,198.2 L1200.1,199.4 L1200.2,202.8 L1200.3,204.8 L1200.4,205.3 L1200.5,207.1 L1200.7,208.6 L1200.8,211.6 L1201.0,213.4 L1201.2,213.9 L1201.3,216.4 L1201.5,219.7 L1201.7,220.6 L1201.8,222.4 L1202.0,224.6 L1202.5,226.5 L1203.0,228.1 L1203.5,229.8 L1204.0,229.9 L1204.5,234.9 L1205.0,235.1 L1205.3,237.2 L1205.7,238.1 L1206.0,241.6 L1206.3,242.9 L1206.6,244.6 L1206.9,247.4 L1207.3,250.3 L1207.6,250.2 L1207.7,252.6 L1207.8,255.5 L1207.9,257.9 L1208.0,257.0 L1208.1,259.4 L1208.2,262.5 L1208.2,262.2 L1208.3,265.4 L1208.4,268.7 L1208.5,270.4 L1208.6,272.0 L1208.7,271.7 L1208.8,275.3 L1209.0,275.5 L1209.2,272.0 L1209.4,270.3 L1209.6,268.2 L1209.8,264.3 L1210.0,262.7 L1210.3,261.0 L1210.5,262.0 L1210.7,257.6 L1210.9,256.2 L1211.1,254.4 L1211.3,252.7 L1211.4,255.1 L1211.5,256.8 L1211.6,258.5 L1211.6,258.9 L1211.7,259.1 L1211.8,263.9 L1211.9,265.8 L1212.0,268.5 L1212.1,269.2 L1212.2,270.5 L1212.3,273.3 L1212.3,273.4 L1212.4,275.7 L1212.5,277.6 L1212.6,280.3 L1212.7,278.7 L1212.9,278.5 L1213.0,275.5 L1213.2,274.1 L1213.3,271.4 L1213.4,269.7 L1213.6,267.2 L1213.7,265.5 L1213.8,261.8 L1214.0,261.1 L1214.1,259.2 L1214.3,259.3 L1214.4,257.3 L1214.5,255.9 L1214.7,254.5 L1214.8,251.0 L1215.0,250.4 L1215.1,247.6 L1215.3,251.3 L1215.5,251.4 L1215.7,254.3 L1215.9,255.0 L1216.1,255.6 L1216.3,259.1 L1216.6,260.1 L1216.8,262.8 L1217.0,264.2 L1217.2,266.8 L1217.4,266.5 L1217.6,270.3 L1217.7,270.3 L1217.8,267.8 L1218.0,264.3 L1218.1,261.9 L1218.2,260.9 L1218.3,259.6 L1218.5,257.5 L1218.6,255.6 L1218.7,251.6 L1218.8,250.4 L1219.0,250.8 L1219.1,247.9 L1219.2,244.4 L1219.3,243.1 L1219.5,240.7 L1219.6,239.2 L1219.7,239.3 L1219.8,236.2 L1220.0,235.5 L1220.1,232.6 L1220.3,234.6 L1220.5,234.8 L1220.6,237.4 L1220.8,241.9 L1221.0,240.9 L1221.2,242.4 L1221.3,246.3 L1221.5,247.0 L1221.7,248.7 L1221.9,251.9 L1222.1,250.7 L1222.2,254.5 L1222.4,254.9 L1222.6,257.7 L1222.9,258.3 L1223.2,260.7 L1223.6,264.4 L1223.9,265.1 L1224.2,265.5 L1224.5,268.0 L1224.9,272.3 L1225.2,272.8 L1225.3,271.9 L1225.3,268.1 L1225.4,269.5 L1225.5,265.1 L1225.5,262.4 L1225.6,261.6 L1225.6,260.7 L1225.7,259.5 L1225.8,257.1 L1225.8,253.9 L1225.9,251.9 L1226.0,249.2 L1226.0,248.6 L1226.1,246.3 L1226.1,245.2 L1226.2,242.0 L1226.3,240.8 L1226.3,238.6 L1226.4,237.6 L1226.9,238.4 L1227.4,240.3 L1227.8,242.3 L1228.3,244.1 L1228.8,247.6 L1229.2,249.0 L1229.7,249.6 L1230.2,252.7 L1230.3,251.3 L1230.4,249.3 L1230.5,248.6 L1230.6,245.2 L1230.7,243.4 L1230.9,241.1 L1231.0,240.0 L1231.1,238.5 L1231.2,236.4 L1231.3,234.2 L1231.4,232.6 L1231.5,235.0 L1231.7,236.4 L1231.8,238.4 L1231.9,239.1 L1232.1,242.0 L1232.2,242.8 L1232.4,244.8 L1232.5,247.5 L1232.6,251.2 L1232.8,252.0 L1232.9,252.9 L1233.0,254.6 L1233.2,257.5 L1233.3,259.7 L1233.5,261.4 L1233.6,262.0 L1233.7,264.2 L1233.9,265.5 L1234.0,267.7 L1234.2,265.6 L1234.4,263.3 L1234.5,262.1 L1234.7,258.5 L1234.9,257.6 L1235.1,257.3 L1235.2,254.3 L1235.4,253.9 L1235.6,250.4 L1235.8,249.4 L1236.0,248.3 L1236.1,245.2 L1236.3,243.7 L1236.5,242.6 L1237.0,246.7 L1237.6,245.6 L1238.1,247.4 L1238.6,249.3 L1239.1,251.6 L1239.7,253.4 L1240.2,255.2 L1240.5,254.2 L1240.9,252.1 L1241.2,249.1 L1241.6,247.2 L1241.9,244.3 L1242.3,242.4 L1242.6,241.1 L1243.0,240.6 L1243.3,238.0 L1243.5,240.0 L1243.6,242.5 L1243.8,244.5 L1244.0,245.3 L1244.2,249.3 L1244.3,248.7 L1244.5,250.5 L1244.7,252.5 L1244.8,255.8 L1245.0,256.5 L1245.2,257.8 L1245.4,260.8 L1245.5,263.3 L1245.7,264.1 L1247.5,265.1 L1249.2,266.4 L1250.8,264.6 L1252.4,264.3 L1254.0,261.7 L1254.4,264.4 L1254.9,266.1 L1255.3,266.3 L1255.8,269.1 L1256.2,270.9 L1256.6,270.7 L1257.1,275.2 L1257.5,275.9 L1258.7,274.4 L1259.9,272.5 L1261.1,271.2 L1261.5,275.1 L1261.8,275.0 L1262.2,276.0 L1262.5,278.4 L1262.9,280.8 L1263.3,282.9 L1263.6,283.9 L1264.0,285.0 L1264.4,287.0 L1264.7,288.7 L1265.1,290.3 L1265.4,293.1 L1265.8,294.9 L1266.1,292.6 L1266.3,291.3 L1266.6,288.6 L1266.9,286.7 L1267.1,285.5 L1267.4,283.5 L1267.7,283.0 L1267.9,279.3 L1268.2,278.3 L1268.6,280.3 L1269.0,282.0 L1269.4,282.6 L1269.8,286.3 L1270.2,287.7 L1270.6,287.4 L1271.0,291.8 L1271.4,293.9 L1271.8,294.9 L1272.5,295.9 L1273.1,299.9 L1273.8,300.1 L1274.5,300.6 L1275.2,303.9 L1275.8,304.8 L1276.5,306.8 L1277.7,307.1 L1278.9,308.0 L1280.1,311.5 L1281.7,313.3 L1283.2,314.0 L1284.8,316.3 L1286.5,317.8 L1288.3,318.4 L1290.0,318.9 L1291.9,319.1 L1293.8,320.2 L1295.7,321.0 L1297.6,322.7 L1299.4,326.2 L1301.3,326.4 L1303.2,328.6 L1305.1,327.7 L1306.7,327.4 L1308.2,325.8 L1309.0,327.5 L1309.8,329.0 L1310.6,331.6 L1311.4,334.0 L1312.7,334.2 L1313.9,331.4 L1315.1,333.7 L1316.4,334.9 L1317.6,337.1 L1319.2,334.1 L1320.8,333.3 L1322.7,334.7 L1324.5,335.8 L1325.6,333.5 L1326.6,332.9 L1327.7,331.4 L1328.3,333.9 L1329.0,335.9 L1329.6,336.9 L1330.2,338.2 L1330.9,340.5 L1331.5,342.1 L1332.6,342.0 L1333.7,339.0 L1334.7,335.6 L1335.8,335.2 L1337.4,337.9 L1339.0,337.7 L1341.5,335.2 L1342.5,337.3 L1343.6,342.2 L1344.6,340.9 L1346.2,339.2 L1347.8,338.4 L1348.6,340.3 L1349.3,342.2 L1350.1,344.8 L1350.9,346.5 L1351.6,344.2 L1352.4,341.6 L1353.1,339.4 L1353.8,339.3 L1354.6,337.1 L1355.3,335.8 L1357.2,337.2 L1359.1,339.6 L1361.6,337.1 L1362.2,340.8 L1362.8,341.4 L1363.4,343.4 L1364.1,343.8 L1364.7,346.3 L1365.3,347.8 L1366.0,345.9 L1366.8,344.2 L1367.5,343.3 L1368.2,341.5 L1368.9,339.5 L1369.7,337.6 L1370.4,335.8 L1372.9,337.7 L1373.3,338.4 L1373.8,341.0 L1374.2,344.0 L1374.7,345.3 L1375.1,346.8 L1375.6,349.9 L1376.0,351.5 L1377.5,349.0 L1378.9,347.6 L1380.4,346.5 L1381.4,345.5 L1382.4,342.7 L1383.4,342.5 L1384.4,339.9 L1385.4,337.7 L1387.9,340.2 L1389.8,340.0 L1391.7,338.4 L1392.4,341.1 L1393.1,339.8 L1393.8,343.4 L1394.6,344.0 L1395.3,346.5 L1396.0,348.5 L1396.7,350.3 L1397.5,349.7 L1398.2,346.7 L1399.0,346.5 L1399.7,342.8 L1400.5,341.5 L1401.0,339.5 L1401.4,337.7 L1401.9,336.5 L1402.3,333.6 L1402.8,331.1 L1403.3,329.4 L1403.7,326.5 L1404.2,325.8 L1404.7,328.8 L1405.1,330.2 L1405.6,331.8 L1406.0,333.6 L1406.5,334.7 L1406.9,336.7 L1407.4,339.7 L1407.8,340.1 L1408.3,342.0 L1408.7,346.1 L1409.2,346.5 L1410.2,346.2 L1411.1,343.3 L1412.0,341.8 L1413.0,339.6 L1413.7,338.1 L1414.5,337.6 L1415.2,334.2 L1415.9,333.0 L1416.7,331.7 L1417.4,329.6 L1418.4,332.8 L1419.5,333.1 L1420.5,335.2 L1421.3,337.2 L1422.0,338.3 L1422.8,339.9 L1423.5,341.6 L1424.3,344.0 L1424.7,342.2 L1425.1,341.0 L1425.5,337.7 L1426.0,335.9 L1426.4,334.2 L1426.8,332.7 L1427.4,334.8 L1428.1,337.0 L1428.7,337.0 L1429.4,340.3 L1430.0,341.8 L1430.7,338.9 L1431.5,338.5 L1432.2,335.1 L1432.9,334.0 L1433.9,331.1 L1434.9,329.4 L1435.9,328.1 L1438.8,329.1 L1439.2,330.9 L1439.6,331.8 L1439.9,334.7 L1440.3,336.5 L1440.7,338.2 L1441.1,340.2 L1441.4,342.5 L1441.8,342.9 L1442.2,345.4 L1442.6,347.2 L1442.9,347.1 L1443.3,351.1 L1443.7,352.6 L1444.3,350.1 L1445.0,348.4 L1445.7,346.8 L1446.3,345.5 L1446.9,343.9 L1447.6,341.8 L1447.8,340.4 L1448.1,337.5 L1448.3,337.0 L1448.6,334.9 L1448.8,332.4 L1449.1,330.9 L1449.3,329.8 L1449.6,327.7 L1449.8,326.1 L1450.1,323.8 L1450.3,322.9 L1450.6,322.0 L1450.8,318.6 L1451.1,316.4 L1451.6,316.8 L1452.2,321.6 L1452.8,321.3 L1453.3,322.4 L1453.9,323.3 L1454.4,327.2 L1454.7,329.5 L1455.0,331.9 L1455.3,333.7 L1455.6,334.4 L1455.9,337.9 L1456.2,338.4 L1456.5,339.8 L1456.8,342.3 L1457.1,344.3 L1457.4,346.0 L1457.7,348.2 L1458.0,347.8 L1458.3,351.6 L1459.0,351.1 L1459.6,347.2 L1460.2,346.3 L1460.9,343.1 L1461.5,342.0 L1462.2,339.9 L1462.8,337.9 L1463.5,334.9 L1464.2,334.8 L1464.8,333.3 L1465.4,329.9 L1466.1,329.1 L1467.1,329.0 L1468.1,332.0 L1469.0,333.6 L1470.0,336.2 L1471.0,337.9 L1471.8,336.3 L1472.6,336.1 L1473.5,333.6 L1474.3,331.1 L1475.1,329.9 L1475.9,328.1 L1477.1,327.2 L1478.3,330.7 L1479.6,332.4 L1480.8,335.0 L1481.6,333.1 L1482.4,331.8 L1483.1,329.9 L1483.9,328.8 L1484.7,326.2 L1486.7,325.1 L1488.6,325.2 L1488.9,327.3 L1489.3,328.7 L1489.6,330.7 L1489.9,332.8 L1490.2,334.1 L1490.6,336.4 L1490.9,338.0 L1491.2,340.7 L1491.5,341.5 L1491.9,343.7 L1492.2,347.6 L1492.5,347.7 L1492.8,349.4 L1493.2,351.7 L1493.5,352.6 L1493.8,349.8 L1494.0,349.5 L1494.3,347.6 L1494.5,345.4 L1494.8,344.0 L1495.1,341.9 L1495.3,340.4 L1495.6,336.9 L1495.8,335.9 L1496.1,333.2 L1496.4,332.9 L1496.6,330.0 L1496.9,326.8 L1497.1,326.2 L1497.4,324.2 L1497.6,321.5 L1497.8,321.5 L1498.0,318.5 L1498.2,315.1 L1498.4,314.9 L1498.7,314.4 L1498.9,312.0 L1499.1,309.3 L1499.3,308.7 L1499.5,306.8 L1499.7,305.8 L1499.9,302.7 L1501.3,305.5 L1502.7,306.7 L1503.0,309.0 L1503.2,309.9 L1503.5,312.8 L1503.7,314.8 L1504.0,316.5 L1504.2,318.8 L1504.5,319.3 L1504.7,322.8 L1505.0,324.3 L1505.2,326.2 L1505.4,328.3 L1505.5,329.7 L1505.7,331.3 L1505.8,333.6 L1506.0,335.9 L1506.1,336.7 L1506.3,339.1 L1506.4,339.9 L1506.6,342.8 L1506.7,344.2 L1506.9,344.9 L1507.0,348.8 L1507.2,348.8 L1507.3,351.5 L1507.5,352.0 L1507.6,353.5 L1507.8,357.4 L1507.9,357.3 L1508.1,360.4 L1508.4,356.7 L1508.6,356.5 L1508.9,353.4 L1509.2,352.8 L1509.5,352.7 L1509.7,348.9 L1510.0,347.7 L1510.3,346.0 L1510.6,343.8 L1510.8,341.7 L1511.1,339.9 L1511.5,339.3 L1511.9,335.9 L1512.3,334.3 L1512.8,332.1 L1513.2,328.9 L1513.6,328.4 L1514.0,326.2 L1514.4,324.2 L1515.3,326.4 L1516.2,328.1 L1517.2,330.5 L1518.1,329.0 L1519.0,331.9 L1519.9,334.0 L1520.6,331.9 L1521.3,329.8 L1522.1,329.3 L1522.8,327.2 L1524.0,325.7 L1525.2,324.4 L1526.5,321.3 L1527.7,321.3 L1528.2,322.2 L1528.7,324.8 L1529.2,326.3 L1529.6,327.9 L1530.1,330.1 L1530.6,332.0 L1532.6,330.5 L1534.5,328.5 L1536.5,328.1 L1537.0,331.6 L1537.5,331.4 L1538.0,334.6 L1538.4,336.5 L1538.9,338.8 L1539.4,339.9 L1539.6,341.3 L1539.7,342.7 L1539.9,345.9 L1540.0,347.4 L1540.2,349.2 L1540.3,351.1 L1540.5,353.0 L1540.6,354.8 L1540.8,356.7 L1540.9,358.6 L1541.1,360.4 L1541.2,362.3 L1541.4,364.1 L1541.5,366.0 L1541.7,367.9 L1541.8,369.7 L1542.0,371.6 L1542.1,373.5 L1542.3,375.3 L1542.4,377.2 L1542.6,379.1 L1542.7,380.9 L1542.9,382.8 L1543.0,381.0 L1543.1,379.1 L1543.2,377.3 L1543.3,375.4 L1543.4,373.6 L1543.5,371.8 L1543.6,369.9 L1543.7,368.1 L1543.7,366.2 L1543.8,364.4 L1543.9,362.6 L1544.0,360.7 L1544.1,358.9 L1544.2,357.0 L1544.3,355.2 L1544.4,353.4 L1544.5,351.5 L1544.6,349.7 L1544.7,347.8 L1544.8,346.0 L1544.9,344.2 L1545.0,342.3 L1545.1,340.5 L1545.2,338.6 L1545.3,336.8 L1545.4,335.0 L1545.4,333.1 L1545.5,331.3 L1545.6,329.4 L1545.7,327.6 L1545.8,325.8 L1545.9,323.9 L1546.0,322.1 L1546.1,320.2 L1546.2,318.4 L1546.3,316.6 L1546.5,314.7 L1546.6,312.9 L1546.8,311.0 L1546.9,309.2 L1547.1,307.3 L1547.2,305.5 L1547.4,303.6 L1547.5,301.8 L1547.6,300.0 L1547.8,298.1 L1547.9,296.3 L1548.1,294.4 L1548.2,292.6 L1548.4,290.7 L1548.5,288.9 L1548.7,287.0 L1548.8,285.2 L1548.9,283.4 L1549.1,281.5 L1549.2,279.7 L1549.4,277.8 L1549.5,276.0 L1549.7,274.1 L1549.8,272.3 L1550.0,270.4 L1550.1,268.6 L1550.3,270.5 L1550.6,272.4 L1550.8,274.2 L1551.0,276.1 L1551.3,278.0 L1551.5,279.9 L1551.7,281.7 L1551.9,283.6 L1552.2,285.5 L1552.4,287.4 L1552.6,289.2 L1552.9,291.1 L1553.1,293.0 L1553.2,294.8 L1553.3,296.6 L1553.3,298.5 L1553.4,300.3 L1553.5,302.1 L1553.6,303.9 L1553.6,305.8 L1553.7,307.6 L1553.8,309.4 L1553.9,311.2 L1554.0,313.0 L1554.0,314.9 L1554.1,316.7 L1554.2,318.5 L1554.3,320.3 L1554.3,322.2 L1554.4,324.0 L1554.5,325.8 L1554.6,327.6 L1554.7,329.4 L1554.7,331.3 L1554.8,333.1 L1554.9,334.9 L1555.0,336.7 L1555.0,338.6 L1555.1,340.4 L1555.2,342.2 L1555.3,344.0 L1555.4,345.8 L1555.4,347.7 L1555.5,349.5 L1555.6,351.3 L1555.7,353.1 L1555.7,355.0 L1555.8,356.8 L1555.9,358.6 L1556.0,360.4 L1556.1,362.2 L1556.1,364.1 L1556.2,365.9 L1556.3,367.7 L1556.4,369.5 L1556.4,371.4 L1556.5,373.2 L1556.6,375.0 L1556.9,373.1 L1557.3,371.1 L1557.6,369.1 L1557.9,367.2 L1558.2,365.2 L1558.6,363.3 L1558.9,361.4 L1559.2,359.4 L1559.6,357.4 L1559.9,355.5 L1560.2,353.6 L1560.5,351.6 L1560.8,349.6 L1561.1,347.7 L1561.3,345.8 L1561.6,343.8 L1561.9,341.9 L1562.2,339.9 L1562.5,337.9 L1562.8,336.0 L1563.1,334.1 L1563.4,332.3 L1563.7,330.4 L1564.0,328.6 L1564.3,326.7 L1564.6,324.8 L1564.9,323.0 L1565.2,321.1 L1565.5,319.3 L1565.8,317.4 L1566.2,319.2 L1566.6,321.0 L1567.0,322.8 L1567.5,324.7 L1567.9,326.5 L1568.3,328.3 L1568.7,330.1 L1569.1,328.2 L1569.5,326.2 L1569.8,324.2 L1570.2,322.3 L1570.6,320.3 L1571.0,318.4 L1571.6,320.2 L1572.2,321.9 L1572.8,323.7 L1573.4,325.4 L1574.0,327.2" fill="none" stroke="#1f77b4" stroke-width="3.4" stroke-linejoin="round" stroke-linecap="butt" clip-path="url(#cb)"/>
<path d="M1193.4,104.0 L1194.8,125.0 L1196.2,150.0 L1197.2,172.0 L1199.0,182.0 L1200.6,208.0 L1202.2,225.0" fill="none" stroke="#1f77b4" stroke-width="4.6" stroke-linejoin="round" stroke-linecap="butt" clip-path="url(#cb)"/>
<path d="M1224.3,112.0 L1224.3,110.0 L1224.3,108.0 L1224.3,106.0 L1224.3,104.0 L1224.3,102.0 L1224.3,100.0 L1224.3,98.0 L1224.3,96.0 L1224.2,94.0 L1224.2,92.0 L1224.2,90.0 L1224.2,88.0 L1224.2,86.0 L1224.2,84.0 L1224.2,82.0 L1224.2,80.0 L1224.2,78.0 L1224.2,76.0 L1224.2,74.0 L1224.2,72.0 L1224.2,70.0 L1224.2,68.0 L1224.2,66.0 L1224.2,64.0 L1224.2,62.0 L1224.1,60.0 L1224.1,58.0 L1224.1,56.0 L1224.1,54.0 L1224.1,52.0 L1224.1,50.0 L1224.1,48.0 L1224.1,46.0 L1224.1,44.0 L1224.1,42.0 L1224.1,40.0 L1224.1,38.0 L1224.1,36.0 L1224.1,34.0 L1224.1,32.0 L1224.1,30.0 L1224.1,28.0 L1224.0,26.0 L1224.0,24.0 L1224.0,22.0 L1224.0,20.0 L1224.0,18.0 L1224.0,16.0 L1224.0,14.0 L1224.0,12.0 L1224.0,10.0 L1226.5,10.0 L1229.0,10.0 L1229.0,12.0 L1229.0,14.0 L1229.1,16.0 L1229.1,18.0 L1229.1,20.0 L1229.1,22.0 L1229.2,24.0 L1229.2,26.0 L1229.2,28.0 L1229.2,30.0 L1229.2,32.0 L1229.3,34.0 L1229.3,36.0 L1229.3,38.0 L1229.3,40.0 L1229.4,42.0 L1229.4,44.0 L1229.4,46.0 L1229.4,48.0 L1229.4,50.0 L1229.5,52.0 L1229.5,54.0 L1229.5,56.0 L1229.5,58.0 L1229.6,60.0 L1229.6,62.0 L1229.6,64.0 L1229.6,66.0 L1229.6,68.0 L1229.7,70.0 L1229.7,72.0 L1229.7,74.0 L1229.7,76.0 L1229.8,78.0 L1229.8,80.0 L1229.8,82.0 L1229.8,84.0 L1229.8,86.0 L1229.9,88.0 L1229.9,90.0 L1229.9,92.0 L1229.9,94.0 L1230.0,96.0 L1230.0,98.0 L1230.0,100.0 L1227.5,102.0 L1227.6,104.0 L1227.6,106.0 L1227.7,108.0 L1227.8,110.0 L1227.8,112.0 L1227.9,114.0 L1227.9,116.0 L1228.0,118.0 L1228.1,120.0 L1228.1,122.0 L1228.2,124.0 L1228.2,126.0 L1228.3,128.0 L1228.4,130.0 L1228.4,132.0 L1228.5,134.0 L1228.6,136.0 L1228.6,138.0 L1228.7,140.0 L1228.8,142.0 L1228.8,144.0 L1228.9,146.0 L1228.9,148.0 L1229.0,150.0 L1229.1,152.0 L1229.2,154.0 L1229.3,156.0 L1229.4,158.0 L1229.5,160.0 L1229.6,162.0 L1229.7,164.0 L1229.8,166.0 L1229.9,168.0 L1230.0,170.0 L1230.1,172.0 L1230.2,174.0 L1230.3,176.0 L1230.4,178.0 L1230.5,180.0 L1230.6,182.0 L1230.7,184.0 L1230.8,186.0 L1230.9,188.0 L1231.0,190.0 L1231.1,192.0 L1231.2,194.0 L1231.3,196.0 L1231.4,198.0 L1231.5,200.0 L1231.6,202.0 L1231.6,204.0 L1231.7,206.0 L1231.8,208.0 L1231.8,210.0 L1231.9,212.0 L1232.0,214.0 L1232.0,216.0 L1232.1,218.0 L1232.2,220.0 L1232.2,222.0 L1232.3,224.0 L1232.4,226.0 L1232.4,228.0 L1232.5,230.0 L1232.6,232.1 L1232.8,234.2 L1232.9,236.3 L1233.0,238.4 L1233.2,240.5 L1233.3,242.5 L1233.5,244.6 L1233.6,246.7 L1233.7,248.8 L1233.9,250.9 L1234.0,253.0 L1234.2,250.9 L1234.4,248.9 L1234.6,246.8 L1234.8,244.8 L1235.0,242.7 L1235.2,244.9 L1235.4,247.0 L1235.7,249.2 L1235.9,251.3 L1236.1,253.5 L1236.3,255.6 L1236.5,257.8 L1236.7,259.9 L1237.0,262.1 L1237.2,264.2 L1237.4,266.4 L1237.5,268.5 L1237.6,270.5 L1237.6,272.6 L1237.7,274.6 L1237.8,276.7 L1237.9,278.8 L1238.0,280.8 L1238.0,282.9 L1238.1,284.9 L1238.2,287.0 L1238.3,289.1 L1238.4,291.1 L1238.4,293.2 L1238.5,295.2 L1238.6,297.3 L1238.6,295.3 L1238.7,293.3 L1238.7,291.2 L1238.7,289.2 L1238.8,287.2 L1238.8,285.2 L1238.8,283.1 L1238.9,281.1 L1238.9,279.1 L1238.9,277.1 L1239.0,275.0 L1239.0,273.0 L1239.0,271.0 L1239.1,269.0 L1239.1,266.9 L1239.1,264.9 L1239.2,262.9 L1239.2,260.9 L1239.2,258.9 L1239.2,256.8 L1239.3,254.8 L1239.3,252.8 L1239.3,250.8 L1239.4,248.7 L1239.4,246.7 L1239.4,244.7 L1239.5,242.7 L1239.5,240.6 L1239.5,238.6 L1239.6,236.6 L1239.6,234.6 L1239.6,232.5 L1239.7,230.5 L1239.7,228.5 L1239.7,230.5 L1239.8,232.6 L1239.8,234.6 L1239.8,236.7 L1239.8,238.7 L1239.9,240.8 L1239.9,242.8 L1239.9,244.9 L1240.0,246.9 L1240.0,249.0 L1240.0,251.0 L1240.0,253.1 L1240.1,255.1 L1240.1,257.2 L1240.1,259.2 L1240.2,261.3 L1240.2,263.3 L1240.2,265.4 L1240.3,267.4 L1240.3,269.5 L1240.3,271.5 L1240.3,273.6 L1240.4,275.6 L1240.4,277.7 L1240.4,279.7 L1240.5,281.8 L1240.5,283.8 L1240.5,285.9 L1240.5,287.9 L1240.6,290.0 L1240.6,292.0 L1240.7,290.0 L1240.7,288.0 L1240.8,286.0 L1240.8,284.0 L1240.9,282.0 L1240.9,280.0 L1241.0,278.0 L1241.0,276.0 L1241.1,274.0 L1241.1,272.0 L1241.2,270.0 L1241.2,268.0 L1241.3,266.0 L1241.3,264.0 L1241.4,262.0 L1241.4,264.0 L1241.5,266.0 L1241.5,268.0 L1241.6,270.0 L1241.6,272.0 L1241.7,274.0 L1241.7,276.0 L1241.7,278.0 L1241.8,280.0 L1241.8,282.0 L1241.9,284.0 L1241.9,286.0 L1241.9,288.0 L1242.0,290.0 L1242.0,292.0 L1242.1,294.0 L1242.1,296.0 L1242.2,298.0 L1242.2,300.0 L1242.3,298.0 L1242.3,296.0 L1242.4,294.0 L1242.4,292.0 L1242.5,290.0 L1242.6,288.0 L1242.6,286.0 L1242.7,284.0 L1242.7,282.0 L1242.8,280.0 L1242.9,278.0 L1242.9,276.0 L1243.0,274.0 L1243.0,272.0 L1243.1,270.0 L1243.2,272.1 L1243.2,274.1 L1243.3,276.2 L1243.3,278.2 L1243.4,280.3 L1243.4,282.4 L1243.5,284.4 L1243.5,286.5 L1243.6,288.5 L1243.6,290.6 L1243.7,292.6 L1243.7,294.7 L1243.8,296.8 L1243.8,298.8 L1243.9,300.9 L1243.9,302.9 L1244.0,305.0 L1244.0,307.0 L1244.1,309.1 L1244.1,311.1 L1244.1,313.1 L1244.1,315.1 L1244.2,317.2 L1244.2,319.2 L1244.2,321.2 L1244.2,323.2 L1244.3,325.3 L1244.3,327.3 L1244.3,329.3 L1244.3,331.3 L1244.4,333.4 L1244.4,335.4 L1244.4,337.4 L1244.4,339.4 L1244.5,341.5 L1244.5,343.5 L1244.5,345.5 L1244.6,347.6 L1244.6,349.6 L1244.6,351.6 L1244.6,353.6 L1244.7,355.7 L1244.7,357.7 L1244.7,359.7 L1244.7,361.7 L1244.8,363.8 L1244.8,365.8 L1244.8,367.8 L1244.8,369.8 L1244.9,371.9 L1244.9,373.9 L1244.9,375.9 L1244.9,377.9 L1245.0,380.0 L1245.0,382.0 L1245.0,380.0 L1245.0,378.0 L1245.0,376.0 L1245.1,373.9 L1245.1,371.9 L1245.1,369.9 L1245.1,367.9 L1245.1,365.9 L1245.1,363.9 L1245.1,361.9 L1245.1,359.8 L1245.2,357.8 L1245.2,355.8 L1245.2,353.8 L1245.2,351.8 L1245.2,349.8 L1245.2,347.8 L1245.2,345.7 L1245.2,343.7 L1245.3,341.7 L1245.3,339.7 L1245.3,337.7 L1245.3,335.7 L1245.3,333.7 L1245.3,331.6 L1245.3,329.6 L1245.3,327.6 L1245.4,325.6 L1245.4,323.6 L1245.4,321.6 L1245.4,319.5 L1245.4,317.5 L1245.4,315.5 L1245.4,313.5 L1245.4,311.5 L1245.5,309.5 L1245.5,307.5 L1245.5,305.4 L1245.5,303.4 L1245.5,301.4 L1245.5,299.4 L1245.5,297.4 L1245.5,295.4 L1245.6,293.4 L1245.6,291.3 L1245.6,289.3 L1245.6,287.3 L1245.6,285.3 L1245.6,283.3 L1245.6,281.3 L1245.6,279.3 L1245.7,277.2 L1245.7,275.2 L1245.7,273.2 L1245.7,271.2 L1245.8,273.3 L1245.8,275.3 L1245.9,277.4 L1246.0,279.4 L1246.0,281.5 L1246.1,283.5 L1246.2,285.6 L1246.2,287.7 L1246.3,289.7 L1246.3,291.8 L1246.4,293.8 L1246.5,295.9 L1246.5,297.9 L1246.6,300.0 L1246.6,298.0 L1246.7,296.0 L1246.7,294.0 L1246.8,292.0 L1246.8,290.0 L1246.9,288.0 L1246.9,286.0 L1246.9,284.0 L1247.0,282.0 L1247.0,280.0 L1247.1,278.0 L1247.1,276.0 L1247.1,274.0 L1247.2,272.0 L1247.2,270.0 L1247.3,268.0 L1247.3,266.0 L1247.4,264.0 L1247.4,262.0 L1247.4,264.0 L1247.5,266.0 L1247.5,268.0 L1247.6,270.0 L1247.6,272.0 L1247.7,274.0 L1247.7,276.0 L1247.8,278.0 L1247.8,280.0 L1247.9,282.0 L1247.9,284.0 L1248.0,286.0 L1248.0,288.0 L1248.1,290.0 L1248.1,292.0 L1248.2,294.0 L1248.2,296.0 L1248.2,294.0 L1248.3,292.0 L1248.3,290.0 L1248.3,288.0 L1248.4,286.0 L1248.4,284.0 L1248.4,282.0 L1248.5,280.0 L1248.5,278.0 L1248.5,276.0 L1248.6,274.0 L1248.6,272.0 L1248.6,270.0 L1248.6,268.0 L1248.7,266.0 L1248.7,264.0 L1248.7,262.0 L1248.8,260.0 L1248.8,258.0 L1248.8,256.0 L1248.9,254.0 L1248.9,252.0 L1248.9,250.0 L1249.0,248.0 L1249.0,246.0 L1249.0,248.0 L1249.1,250.0 L1249.1,252.0 L1249.1,254.0 L1249.1,256.0 L1249.2,258.0 L1249.2,260.0 L1249.2,262.0 L1249.3,264.0 L1249.3,266.0 L1249.3,268.0 L1249.4,270.0 L1249.4,272.0 L1249.4,274.0 L1249.4,276.0 L1249.5,278.0 L1249.5,280.0 L1249.5,282.0 L1249.6,284.0 L1249.6,286.0 L1249.6,288.0 L1249.7,290.0 L1249.7,292.0 L1249.7,294.0 L1249.7,296.0 L1249.8,298.0 L1249.8,300.0 L1249.8,298.0 L1249.9,296.0 L1249.9,294.0 L1249.9,292.0 L1249.9,290.0 L1250.0,288.0 L1250.0,286.0 L1250.0,284.0 L1250.0,282.0 L1250.1,280.0 L1250.1,278.0 L1250.1,276.0 L1250.1,274.0 L1250.2,272.0 L1250.2,270.0 L1250.2,268.0 L1250.2,266.0 L1250.3,264.0 L1250.3,262.0 L1250.3,260.0 L1250.3,258.0 L1250.4,256.0 L1250.4,254.0 L1250.4,252.0 L1250.4,250.0 L1250.5,248.0 L1250.5,246.0 L1250.5,244.0 L1250.5,242.0 L1250.6,240.0 L1250.6,238.0 L1250.6,240.0 L1250.7,242.0 L1250.7,244.0 L1250.7,246.0 L1250.7,248.0 L1250.8,250.0 L1250.8,252.0 L1250.8,254.0 L1250.8,256.0 L1250.9,258.0 L1250.9,260.0 L1250.9,262.0 L1250.9,264.0 L1251.0,266.0 L1251.0,268.0 L1251.0,270.0 L1251.1,272.0 L1251.1,274.0 L1251.1,276.0 L1251.1,278.0 L1251.2,280.0 L1251.2,282.0 L1251.2,284.0 L1251.2,286.0 L1251.3,288.0 L1251.3,290.0 L1251.3,288.0 L1251.3,286.0 L1251.4,284.0 L1251.4,282.0 L1251.4,280.0 L1251.4,278.0 L1251.5,276.0 L1251.5,274.0 L1251.5,272.0 L1251.5,270.0 L1251.6,268.0 L1251.6,266.0 L1251.6,264.0 L1251.6,262.0 L1251.7,260.0 L1251.7,258.0 L1251.7,256.0 L1251.7,254.0 L1251.8,252.0 L1251.8,250.0 L1251.8,248.0 L1251.8,246.0 L1251.9,244.0 L1251.9,242.0 L1251.9,240.0 L1251.9,238.0 L1252.0,236.0 L1252.0,234.0 L1252.0,232.0 L1252.0,230.0 L1252.1,228.0 L1252.1,226.0 L1252.1,224.0 L1252.4,222.0 L1252.8,220.0 L1253.2,218.0 L1253.5,216.0 L1256.5,214.0 L1257.7,216.0 L1258.8,218.0 L1258.9,220.1 L1259.0,222.2 L1259.1,224.2 L1259.2,226.3 L1259.3,228.4 L1259.4,230.5 L1259.4,232.5 L1259.5,234.6 L1259.6,236.7 L1259.7,238.8 L1259.8,240.8 L1259.9,242.9 L1260.0,245.0 L1260.1,247.1 L1260.1,249.1 L1260.2,251.2 L1260.2,253.2 L1260.3,255.2 L1260.4,257.3 L1260.4,259.4 L1260.5,261.4 L1260.5,263.4 L1260.6,265.5 L1260.7,267.6 L1260.7,269.6 L1260.8,271.6 L1260.8,273.7 L1260.9,275.8 L1261.0,277.8 L1261.0,279.9 L1261.1,281.9 L1261.1,283.9 L1261.2,286.0 L1261.3,284.0 L1261.3,282.0 L1261.4,280.0 L1261.4,278.0 L1261.5,276.0 L1261.5,274.0 L1261.6,272.0 L1261.6,270.0 L1261.7,268.0 L1261.8,266.0 L1261.8,264.0 L1261.9,262.0 L1261.9,260.0 L1262.0,258.0 L1262.0,256.0 L1262.1,254.0 L1262.1,252.0 L1262.2,250.0 L1263.7,248.3 L1265.8,249.7 L1266.3,251.8 L1266.8,253.8 L1267.4,255.9 L1267.9,258.0 L1269.0,260.1 L1270.0,262.3 L1271.8,263.7 L1272.0,265.9 L1272.2,268.1 L1272.4,270.4 L1272.6,272.6 L1272.8,274.8 L1272.9,276.9 L1273.0,279.0 L1273.1,281.1 L1273.2,283.2 L1273.2,285.3 L1273.3,287.4 L1273.4,289.5 L1273.5,291.6 L1275.6,294.4 L1277.7,293.7 L1278.2,295.8 L1278.6,297.9 L1279.1,300.0 L1279.3,302.3 L1279.5,304.6 L1279.7,306.9 L1279.9,309.2 L1280.1,311.5 L1280.5,313.5 L1280.9,315.5 L1281.3,317.4 L1281.7,319.4 L1282.1,321.4 L1282.5,323.4 L1283.1,325.4 L1283.7,327.4 L1284.2,329.4 L1284.8,331.3 L1285.4,333.3 L1286.0,335.3 L1286.2,333.3 L1286.3,331.2 L1286.5,329.2 L1286.7,327.2 L1286.9,325.1 L1287.0,323.1 L1287.2,321.1 L1287.4,319.0 L1287.5,317.0 L1287.7,314.9 L1287.9,312.9 L1288.1,310.9 L1288.2,308.8 L1288.4,306.8 L1288.7,308.8 L1289.1,310.9 L1289.4,312.9 L1289.8,314.9 L1290.1,316.9 L1290.5,319.0 L1290.8,321.0 L1291.2,319.0 L1291.6,317.1 L1291.9,315.1 L1292.3,313.1 L1292.7,311.2 L1293.1,309.2 L1293.2,311.3 L1293.4,313.4 L1293.5,315.5 L1293.6,317.6 L1293.8,319.7 L1293.9,321.8 L1294.0,323.9 L1294.2,326.0 L1294.3,328.1 L1294.4,330.3 L1294.6,332.4 L1294.7,334.5 L1294.8,336.6 L1295.0,338.7 L1295.1,340.8 L1295.2,342.9 L1295.4,345.0 L1295.5,347.1 L1296.1,349.5 L1296.7,351.9 L1297.3,354.2 L1297.9,356.6 L1300.2,355.7 L1302.6,356.3 L1304.3,358.2 L1305.9,360.3 L1307.6,361.4 L1308.2,363.3 L1308.8,365.0 L1309.5,367.9 L1310.1,370.1 L1310.9,372.5 L1311.8,375.0 L1312.6,376.4 L1314.3,376.9 L1315.9,378.2 L1317.6,380.2 L1320.1,382.7 L1320.5,385.1 L1320.9,387.0 L1321.4,389.7 L1321.8,391.4 L1322.2,392.8 L1324.3,392.7 L1326.4,392.8 L1328.3,394.5 L1330.2,396.5 L1332.1,399.9 L1334.0,400.3 L1335.2,401.8 L1336.5,403.2 L1337.7,405.3 L1340.2,404.0 L1342.8,404.1 L1345.3,404.8 L1347.8,405.3 L1350.3,406.0 L1352.8,406.6 L1354.7,407.6 L1356.6,409.1 L1357.3,411.3 L1358.1,413.8 L1358.8,416.3 L1359.6,418.8 L1360.3,420.4 L1361.2,422.6 L1362.0,423.5 L1362.8,427.1 L1363.7,427.9 L1364.6,430.7 L1365.4,432.9 L1366.7,433.9 L1367.9,436.7 L1369.2,438.1 L1370.4,440.5 L1372.1,442.3 L1373.7,445.8 L1375.4,445.5 L1377.9,445.5 L1380.4,445.5 L1382.3,446.7 L1384.2,446.8 L1384.7,443.7 L1385.2,442.3 L1385.7,440.0 L1386.2,437.8 L1386.7,435.5 L1387.7,433.3 L1388.6,431.1 L1389.5,428.9 L1390.5,426.7 L1393.5,424.2 L1394.5,422.0 L1395.5,419.8 L1396.5,417.6 L1397.5,415.4 L1398.1,417.5 L1398.7,419.7 L1399.3,421.8 L1400.0,424.0 L1400.6,426.1 L1401.2,428.3 L1401.8,430.4 L1402.5,432.4 L1403.3,434.4 L1404.0,436.5 L1404.8,438.5 L1405.5,440.5 L1406.5,442.5 L1407.5,444.5 L1408.6,446.5 L1409.6,448.5 L1410.6,450.5 L1411.6,452.5 L1412.6,454.5 L1413.6,456.6 L1414.6,458.6 L1415.6,460.6 L1416.8,462.2 L1418.1,463.8 L1419.3,465.3 L1420.6,466.9 L1422.5,466.2 L1424.4,465.6 L1425.4,463.6 L1426.4,461.6 L1427.4,459.5 L1428.4,457.5 L1429.4,455.5 L1430.2,453.4 L1431.1,451.3 L1431.9,449.2 L1432.7,447.2 L1433.6,445.1 L1434.4,443.0 L1435.2,441.0 L1435.9,439.0 L1436.7,436.9 L1437.4,434.9 L1438.2,432.9 L1439.5,430.4 L1440.7,427.9 L1442.8,429.5 L1443.5,431.6 L1444.2,433.7 L1444.9,435.8 L1445.6,437.9 L1446.5,440.0 L1447.3,442.1 L1448.2,444.2 L1449.1,446.3 L1449.7,448.2 L1450.2,450.2 L1450.8,452.1 L1451.3,454.1 L1451.9,456.0 L1452.4,458.2 L1453.0,460.5 L1453.5,462.7 L1454.1,465.0 L1454.6,467.2 L1455.8,469.5 L1456.9,471.9 L1458.1,474.2 L1459.8,476.6 L1461.6,479.0 L1463.7,479.4 L1465.8,479.7 L1468.6,476.9 L1469.3,474.8 L1470.0,472.8 L1470.7,470.7 L1471.4,468.6 L1472.0,466.4 L1472.5,464.1 L1473.1,461.9 L1473.6,459.6 L1474.2,457.4 L1474.8,455.5 L1475.3,453.5 L1475.9,451.6 L1476.4,449.6 L1477.0,447.7 L1477.7,445.7 L1478.4,443.8 L1479.0,441.8 L1479.7,439.9 L1480.4,437.9 L1481.6,435.8 L1482.7,433.7 L1483.9,431.6 L1485.3,433.4 L1486.7,435.1 L1487.3,437.1 L1487.8,439.0 L1488.4,441.0 L1488.9,442.9 L1489.5,444.9 L1490.2,447.1 L1490.9,449.3 L1491.6,451.6 L1492.3,453.8 L1493.0,456.0 L1493.7,458.1 L1494.4,460.2 L1495.1,462.3 L1495.8,464.4 L1496.5,466.5 L1497.2,468.6 L1497.9,470.7 L1498.6,472.8 L1499.3,474.9 L1500.0,476.9 L1500.7,479.0 L1501.4,481.1 L1503.2,482.5 L1504.9,483.9 L1506.6,486.0 L1508.3,488.1 L1510.0,486.4 L1511.8,484.6 L1512.2,482.5 L1512.6,480.4 L1513.0,478.3 L1513.4,476.3 L1513.8,474.2 L1514.2,472.1 L1514.6,470.0 L1515.1,467.9 L1515.5,465.8 L1516.0,463.7 L1516.5,461.6 L1516.9,459.5 L1517.4,457.4 L1518.0,455.2 L1518.5,453.0 L1519.1,450.7 L1519.6,448.5 L1520.2,446.3 L1520.7,444.2 L1521.2,442.1 L1521.8,440.0 L1522.3,437.9 L1525.1,435.8 L1528.6,435.8 L1530.0,437.6 L1531.4,439.3 L1532.1,441.4 L1532.8,443.5 L1533.4,445.6 L1534.1,447.7 L1534.8,449.9 L1535.5,452.1 L1536.2,454.4 L1536.9,456.6 L1537.6,458.8 L1538.3,460.9 L1539.0,463.0 L1539.7,465.1 L1540.4,467.2 L1541.1,469.3 L1541.8,471.4 L1542.6,473.6 L1543.5,475.8 L1544.3,478.1 L1545.2,480.3 L1546.0,482.5 L1547.2,484.4 L1548.3,486.2 L1549.5,488.1 L1552.3,485.3 L1552.9,483.1 L1553.4,480.9 L1554.0,478.6 L1554.5,476.4 L1555.1,474.2 L1555.6,472.2 L1556.1,470.2 L1556.6,468.2 L1557.0,466.2 L1557.5,464.2 L1558.0,462.2 L1558.5,460.2 L1559.0,458.0 L1559.5,455.8 L1560.0,453.6 L1560.5,451.5 L1561.0,449.3 L1561.5,447.1 L1562.0,444.9 L1562.6,442.7 L1563.1,440.4 L1563.7,438.2 L1564.2,435.9 L1564.8,433.7 L1566.2,431.9 L1567.6,430.2 L1569.0,431.9 L1570.4,433.7 L1571.1,435.8 L1571.8,437.9 L1572.5,440.0 L1573.2,442.1 L1573.9,444.3 L1574.6,446.5 L1575.3,448.8 L1576.0,451.0 L1576.7,453.2 L1577.4,455.3 L1578.1,457.4 L1578.8,459.5 L1579.5,461.6 L1580.2,463.7 L1580.9,465.8 L1581.7,468.0 L1582.5,470.2 L1583.4,472.5 L1584.2,474.7 L1585.0,476.9 L1586.0,479.0 L1587.1,481.1 L1588.2,483.2 L1589.2,485.3 L1591.3,486.7 L1593.4,488.1 L1594.8,486.0 L1596.2,483.9 L1596.6,481.7 L1597.0,479.5 L1597.4,477.3 L1597.8,475.2 L1598.2,473.0 L1598.6,470.8 L1599.0,468.6 L1599.5,466.6 L1600.0,464.6 L1600.5,462.6 L1601.0,460.6 L1601.5,458.6 L1602.0,456.6 L1602.5,454.6 L1603.0,452.6 L1603.5,450.6 L1604.0,448.6 L1604.5,446.7 L1605.0,444.7 L1605.5,442.7 L1606.0,440.7 L1606.7,438.6 L1607.4,436.5 L1608.1,434.4 L1608.8,432.3 L1611.5,435.1 L1612.2,437.2 L1612.9,439.3 L1613.6,441.4 L1614.3,443.5 L1615.3,445.6 L1616.4,447.6 L1617.5,449.7 L1618.5,451.8 L1619.1,453.8 L1619.6,455.7 L1620.2,457.7 L1620.7,459.6 L1621.3,461.6 L1622.1,463.6 L1623.0,465.5 L1623.8,467.5 L1624.7,469.4 L1625.5,471.4 L1626.0,473.8 L1626.5,476.2 L1627.1,478.7 L1627.6,481.1 L1628.3,483.2 L1629.0,485.3 L1629.7,487.4 L1631.2,489.5 L1632.8,491.6 L1634.2,489.9 L1635.6,488.1 L1635.9,485.3 L1636.3,482.5 L1638.4,479.7 L1638.8,477.5 L1639.2,475.3 L1639.7,473.0 L1640.1,470.8 L1640.5,468.6 L1641.0,466.4 L1641.5,464.2 L1642.0,462.0 L1642.4,459.8 L1642.9,457.6 L1643.4,455.4 L1643.9,453.2 L1644.5,451.0 L1645.0,448.8 L1645.6,446.5 L1646.1,444.3 L1646.7,442.1 L1648.1,439.6 L1649.5,437.2 L1653.0,438.6 L1653.9,440.7 L1654.9,442.8 L1655.8,444.9 L1656.4,446.8 L1656.9,448.8 L1657.5,450.7 L1658.0,452.7 L1658.6,454.6 L1659.3,456.6 L1660.0,458.5 L1660.7,460.5 L1661.4,462.4 L1662.1,464.4 L1662.8,466.4 L1663.5,468.3 L1664.2,470.3 L1664.9,472.2 L1665.6,474.2 L1666.3,476.4 L1667.0,478.6 L1667.7,480.9 L1668.4,483.1 L1669.1,485.3 L1669.9,487.2 L1670.8,489.1 L1671.7,491.1 L1672.5,493.0 L1674.2,494.1 L1676.0,495.1 L1677.4,493.0 L1678.8,490.9 L1679.2,488.4 L1679.5,486.0 L1679.8,483.6 L1680.2,481.1 L1680.7,479.0 L1681.1,476.9 L1681.6,474.9 L1682.1,472.8 L1682.5,470.7 L1683.0,468.6 L1683.5,466.5 L1683.9,464.4 L1684.4,462.3 L1684.9,460.2 L1685.3,458.1 L1685.8,456.0 L1686.3,453.9 L1686.7,451.8 L1687.2,449.8 L1687.7,447.7 L1688.1,445.6 L1688.6,443.5 L1689.3,441.2 L1690.0,438.8 L1690.7,436.5 L1692.1,435.1 L1693.2,437.2 L1694.2,439.3 L1694.9,441.6 L1695.5,444.0 L1696.2,446.3 L1697.6,448.4 L1699.0,450.4 L1699.7,452.6 L1700.4,454.9 L1701.1,457.1 L1701.8,459.4 L1702.5,461.6 L1703.1,463.7 L1703.7,465.8 L1704.2,467.9 L1704.8,470.0 L1705.4,472.1 L1706.0,474.2 L1706.7,476.1 L1707.4,478.1 L1708.1,480.0 L1708.8,482.0 L1709.5,483.9 L1711.2,486.0 L1713.0,488.1 L1714.0,490.9 L1715.1,493.7 L1716.2,491.6 L1717.2,489.5 L1717.8,487.5 L1718.3,485.6 L1718.9,483.6 L1719.4,481.7 L1720.0,479.7 L1720.4,477.7 L1720.8,475.7 L1721.2,473.7 L1721.5,471.8 L1721.9,469.8 L1722.3,467.8 L1722.7,465.8 L1723.2,463.7 L1723.6,461.6 L1724.1,459.5 L1724.6,457.4 L1725.0,455.3 L1725.5,453.2 L1726.1,451.3 L1726.6,449.3 L1727.2,447.4 L1727.7,445.4 L1728.3,443.5 L1729.2,441.6 L1730.2,439.8 L1731.1,437.9 L1733.9,437.9 L1735.3,440.0 L1736.7,442.1 L1737.6,444.2 L1738.5,446.2 L1739.3,448.3 L1740.2,450.4 L1740.9,452.5 L1741.6,454.6 L1742.3,456.7 L1743.0,458.8 L1743.7,460.9 L1744.4,463.0 L1745.1,465.2 L1745.8,467.5 L1746.5,469.7 L1747.2,472.0 L1747.9,474.2 L1748.6,476.4 L1749.3,478.6 L1749.9,480.9 L1750.6,483.1 L1751.3,485.3 L1752.2,487.4 L1753.0,489.5 L1753.9,491.6 L1754.8,493.7 L1757.6,495.8 L1759.0,493.7 L1760.4,491.6 L1761.1,489.0 L1761.8,486.5 L1762.5,483.9 L1762.8,481.8 L1763.2,479.7 L1763.5,477.6 L1763.9,475.6 L1764.2,473.5 L1764.6,471.4 L1764.9,469.2 L1765.2,467.0 L1765.5,464.8 L1765.8,462.6 L1766.1,460.4 L1766.4,458.2 L1766.7,456.0 L1767.1,453.6 L1767.5,451.3 L1768.0,448.9 L1768.4,446.6 L1768.8,444.2 L1770.2,442.4 L1771.6,440.7 L1775.0,438.6 L1776.4,440.4 L1777.8,442.1 L1778.4,444.3 L1778.9,446.5 L1779.5,448.8 L1780.0,451.0 L1780.6,453.2 L1782.0,455.3 L1783.4,457.4 L1784.1,459.5 L1784.8,461.6 L1785.5,463.7 L1786.2,465.8 L1786.8,468.0 L1787.3,470.2 L1787.9,472.5 L1788.4,474.7 L1789.0,476.9 L1789.9,479.2 L1790.9,481.6 L1791.8,483.9 L1792.5,485.8 L1793.2,487.8 L1793.9,489.7 L1794.6,491.6 L1796.3,493.0 L1798.1,494.4 L1799.4,492.6 L1800.8,490.9 L1801.2,488.9 L1801.6,487.0 L1802.1,485.0 L1802.5,483.1 L1802.9,481.1 L1803.3,478.9 L1803.7,476.7 L1804.1,474.5 L1804.5,472.4 L1804.9,470.2 L1805.3,468.0 L1805.7,465.8 L1806.2,463.7 L1806.6,461.6 L1807.1,459.5 L1807.6,457.4 L1808.0,455.3 L1808.5,453.2 L1809.2,451.1 L1809.9,449.0 L1810.6,447.0 L1811.3,444.9 L1814.1,444.2 L1815.8,445.9 L1817.6,447.7" fill="none" stroke="#ff7f0e" stroke-width="3.4" stroke-linejoin="round" stroke-linecap="butt" clip-path="url(#cb)"/>
<path d="M1227.0,8.0 L1227.3,104.0" fill="none" stroke="#ff7f0e" stroke-width="6.5" stroke-linejoin="round" stroke-linecap="butt" clip-path="url(#cb)"/>
<path d="M1229.6,100.0 L1231.2,236.0" fill="none" stroke="#ff7f0e" stroke-width="5.0" stroke-linejoin="round" stroke-linecap="butt" clip-path="url(#cb)"/>
<line x1="1086.40" y1="22.00" x2="1086.40" y2="631.90" stroke="#000" stroke-width="3.8"/>
<line x1="1084.50" y1="23.90" x2="1850.40" y2="23.90" stroke="#000" stroke-width="3.8"/>
<line x1="1084.50" y1="630.00" x2="1850.40" y2="630.00" stroke="#000" stroke-width="3.8"/>
<line x1="1848.50" y1="22.00" x2="1848.50" y2="631.90" stroke="#000" stroke-width="3.8"/>
<text x="1073.40" y="641.30" font-size="29.6" text-anchor="end" >0</text>
<text x="1073.40" y="529.06" font-size="29.6" text-anchor="end" >1</text>
<text x="1073.40" y="416.82" font-size="29.6" text-anchor="end" >2</text>
<text x="1073.40" y="304.58" font-size="29.6" text-anchor="end" >3</text>
<text x="1073.40" y="192.34" font-size="29.6" text-anchor="end" >4</text>
<text x="1073.40" y="80.10" font-size="29.6" text-anchor="end" >5</text>
<text x="1086.40" y="667.00" font-size="29.6" text-anchor="middle" >0</text>
<text x="1183.86" y="667.00" font-size="29.6" text-anchor="middle" >20</text>
<text x="1281.31" y="667.00" font-size="29.6" text-anchor="middle" >40</text>
<text x="1378.77" y="667.00" font-size="29.6" text-anchor="middle" >60</text>
<text x="1476.22" y="667.00" font-size="29.6" text-anchor="middle" >80</text>
<text x="1573.68" y="667.00" font-size="29.6" text-anchor="middle" >100</text>
<text x="1671.13" y="667.00" font-size="29.6" text-anchor="middle" >120</text>
<text x="1768.59" y="667.00" font-size="29.6" text-anchor="middle" >140</text>
<line x1="1707.1" y1="62.50" x2="1764.8" y2="62.50" stroke="#2ca02c" stroke-width="3.4" stroke-linecap="round"/>
<text x="1789.10" y="73.10" font-size="29.6" text-anchor="start" >Ti</text>
<line x1="1707.1" y1="105.65" x2="1764.8" y2="105.65" stroke="#1f77b4" stroke-width="3.4" stroke-linecap="round"/>
<text x="1789.10" y="116.25" font-size="29.6" text-anchor="start" >Al</text>
<line x1="1707.1" y1="148.80" x2="1764.8" y2="148.80" stroke="#ff7f0e" stroke-width="3.4" stroke-linecap="round"/>
<text x="1789.10" y="159.40" font-size="29.6" text-anchor="start" >Cr</text>
<text x="1467.50" y="710.60" font-size="29.6" text-anchor="middle" >time [µs]</text>
<text transform="translate(1032.3,327.4) rotate(-90)" font-size="29.6" text-anchor="middle">electron temperature [eV]</text>
<text x="964.00" y="24.30" font-size="29.6" text-anchor="start" >b)</text>
</svg>
</body></html>
